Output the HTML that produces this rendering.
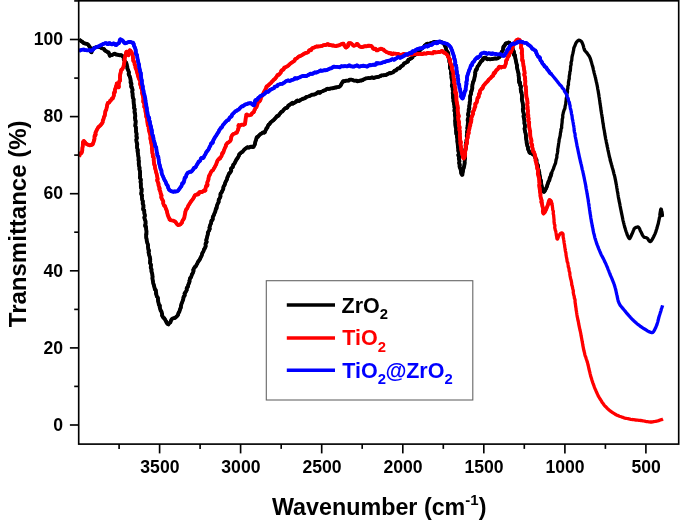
<!DOCTYPE html>
<html><head><meta charset="utf-8"><title>FTIR spectra</title>
<style>
html,body{margin:0;padding:0;background:#fff;}
body{width:685px;height:524px;overflow:hidden;}
svg{display:block;}
text{font-family:"Liberation Sans",Arial,Helvetica,sans-serif;font-weight:bold;}
.tk{font-size:17.6px;fill:#000;}
.ttl{font-size:24px;fill:#000;}
.lg{font-size:21.5px;}
.k{stroke-width:3.8 !important;}
.c{fill:none;stroke-width:3.3;stroke-linejoin:round;stroke-linecap:butt;}
</style></head><body>
<svg width="685" height="524" viewBox="0 0 685 524">
<rect x="0" y="0" width="685" height="524" fill="#fff"/>
<polyline class="c" stroke="#000" points="79.0,39.5 79.7,40.1 80.7,40.7 81.5,41.4 81.7,41.5 82.6,42.0 83.7,43.1 84.7,43.4 85.6,43.7 86.7,43.9 87.5,44.1 88.1,44.6 88.8,45.5 89.3,46.5 89.8,46.8 90.1,47.8 90.4,49.0 90.6,50.3 90.9,51.8 91.2,52.2 91.5,52.3 91.9,51.2 92.7,49.2 93.3,48.5 93.8,48.2 94.6,47.7 96.1,47.2 97.1,46.9 97.3,47.0 98.3,47.2 99.8,47.1 100.7,47.5 101.4,48.1 102.4,48.5 103.4,48.8 104.3,49.2 104.9,50.5 105.7,51.0 106.7,51.5 107.5,52.1 108.6,52.4 109.0,53.5 109.5,54.9 109.9,55.8 109.9,55.5 110.6,55.3 111.8,55.2 112.8,54.6 114.0,53.9 115.0,53.7 116.0,54.6 117.0,54.7 117.3,54.6 118.3,54.9 119.2,55.1 120.2,55.4 121.2,55.1 122.0,55.7 123.2,56.9 123.9,57.7 123.7,59.3 124.2,60.2 124.9,61.0 125.3,61.9 126.1,62.5 126.5,63.4 126.4,63.7 126.7,64.6 127.1,66.3 127.4,67.2 127.3,68.1 127.6,69.1 128.1,69.9 128.4,70.9 128.8,71.8 129.0,72.7 128.6,73.9 128.9,74.9 129.7,76.2 129.9,77.2 130.3,78.0 130.5,79.0 130.5,79.8 130.7,80.7 130.5,82.2 130.7,83.2 131.3,83.0 131.5,84.0 131.1,86.2 131.3,87.2 131.7,86.9 131.9,87.9 132.4,89.1 132.6,90.1 132.2,91.4 132.3,92.4 132.5,92.9 132.6,93.9 132.6,95.6 132.7,96.6 132.8,96.8 132.9,97.8 133.6,99.1 133.7,100.1 133.5,100.8 133.6,101.8 133.7,103.7 133.9,104.7 134.2,105.6 134.3,106.6 134.0,107.2 134.1,108.2 134.7,108.9 134.7,109.9 134.5,111.7 134.6,112.7 135.0,113.1 135.1,114.1 135.3,115.7 135.3,116.7 134.9,117.3 135.0,118.3 135.3,119.3 135.3,120.3 135.6,120.6 135.7,121.6 135.5,123.5 135.5,124.5 135.3,125.1 135.3,126.1 135.8,126.9 135.9,127.9 136.0,129.2 136.1,130.2 136.0,131.1 136.1,132.1 136.5,133.2 136.6,134.2 136.4,136.0 136.5,137.0 136.8,137.1 136.9,138.1 136.3,139.7 136.4,140.7 136.5,141.3 136.6,142.3 137.2,143.8 137.3,144.8 137.0,145.0 137.1,146.0 137.0,146.9 137.1,147.9 137.8,149.8 137.9,150.8 137.5,150.6 137.6,151.6 138.0,153.9 138.1,154.8 138.2,155.3 138.3,156.3 138.5,157.0 138.6,158.0 138.5,159.9 138.6,160.9 138.8,160.6 138.9,161.6 138.7,163.2 138.8,164.2 138.8,164.5 138.9,165.5 139.5,167.3 139.6,168.2 139.4,168.7 139.5,169.7 140.0,171.3 140.1,172.3 140.0,173.8 140.1,174.8 140.1,175.6 140.2,176.6 139.9,177.0 140.0,178.0 140.8,179.4 140.8,180.4 140.5,181.5 140.6,182.5 140.8,183.1 140.9,184.1 140.8,185.1 140.9,186.1 140.8,186.6 140.9,187.6 141.6,188.9 141.7,189.9 141.5,190.6 141.6,191.5 141.2,193.4 141.3,194.4 141.9,195.0 142.0,196.0 141.9,196.9 142.0,197.9 142.2,199.5 142.4,200.5 142.8,201.0 142.9,202.0 142.6,202.8 142.7,203.8 143.3,204.6 143.5,205.6 143.4,206.3 143.5,207.3 143.1,208.8 143.3,209.8 144.2,210.2 144.3,211.2 144.3,212.6 144.4,213.6 144.8,214.9 144.9,215.9 144.3,217.5 144.5,218.5 144.6,218.3 144.7,219.3 145.5,221.1 145.6,222.1 145.5,222.8 145.6,223.8 145.1,225.2 145.2,226.2 145.9,226.3 146.0,227.3 146.1,228.2 146.2,229.2 146.4,230.6 146.5,231.6 146.4,233.2 146.5,234.2 146.1,234.3 146.2,235.3 146.2,237.1 146.3,238.1 146.5,238.4 146.6,239.4 146.7,240.3 146.8,241.3 147.1,242.0 147.3,243.0 147.9,244.5 148.1,245.5 147.9,246.5 148.1,247.5 148.3,248.9 148.4,249.8 148.8,250.0 149.0,251.0 148.5,252.1 148.7,253.1 149.0,253.9 149.1,254.9 149.5,256.0 149.7,257.0 150.2,258.7 150.3,259.7 150.1,260.4 150.3,261.4 150.0,262.2 150.1,263.2 150.9,264.5 151.0,265.5 150.7,267.1 150.8,268.1 151.4,268.9 151.6,269.9 151.4,270.7 151.5,271.7 152.0,273.0 152.2,274.0 152.2,273.7 152.4,274.7 152.4,275.7 152.6,276.7 152.4,278.3 152.6,279.3 152.7,280.1 152.9,281.0 153.2,282.8 153.4,283.8 153.6,284.2 153.8,285.1 154.1,286.2 154.4,287.1 154.7,288.6 155.0,289.6 155.7,289.9 155.9,290.9 156.0,292.4 156.3,293.4 156.0,293.5 156.3,294.5 156.6,295.5 156.8,296.5 157.8,297.5 158.0,298.5 157.9,299.8 158.2,300.7 158.1,301.2 158.4,302.2 158.7,303.8 158.9,304.8 159.6,305.0 159.9,306.0 159.6,306.9 159.9,307.9 160.5,310.0 160.7,310.9 161.3,311.0 161.6,312.0 161.8,313.2 162.2,314.1 162.0,315.3 162.4,316.2 163.0,317.0 163.4,317.8 164.1,318.0 164.7,318.8 165.6,320.7 166.2,321.5 166.4,322.4 167.1,323.4 167.7,324.0 168.4,324.4 169.0,323.5 169.5,322.9 170.4,322.3 170.8,321.1 171.4,319.7 172.0,318.9 172.7,318.6 173.6,318.1 174.4,318.2 175.3,317.7 176.8,316.3 177.4,315.7 177.6,315.5 178.1,314.7 178.3,313.4 178.7,312.5 179.2,312.1 179.5,311.1 180.0,309.5 180.3,308.5 180.6,308.2 180.9,307.2 180.9,306.1 181.2,305.2 181.4,304.2 181.7,303.3 182.3,301.9 182.6,301.0 183.1,299.7 183.4,298.7 183.4,297.5 183.7,296.6 184.5,296.0 184.8,295.1 184.5,293.7 184.8,292.8 185.3,292.7 185.7,291.8 186.4,290.8 186.8,289.9 186.6,288.6 186.9,287.7 187.7,287.2 188.0,286.3 188.2,285.0 188.6,284.0 189.3,282.4 189.6,281.5 189.4,280.7 189.7,279.7 189.9,278.9 190.2,277.9 191.1,277.2 191.4,276.2 191.8,274.9 192.1,273.9 192.5,273.7 192.9,272.8 193.3,271.7 193.6,270.8 193.2,270.0 193.6,269.1 194.2,268.0 194.7,267.1 195.5,266.8 196.0,265.9 196.7,264.5 197.3,263.6 197.8,262.2 198.3,261.3 198.4,261.6 198.9,260.7 199.7,259.6 200.2,258.7 200.4,258.0 200.9,257.1 201.2,256.4 201.7,255.6 202.2,253.4 202.7,252.5 203.2,251.9 203.6,250.9 203.9,249.8 204.2,248.9 204.8,248.4 205.1,247.5 205.4,247.1 205.7,246.2 205.5,244.1 205.7,243.2 206.4,242.7 206.7,241.8 206.2,240.3 206.4,239.3 206.6,239.2 206.8,238.2 207.0,237.4 207.3,236.4 207.8,234.3 208.0,233.3 207.8,232.9 208.1,232.0 209.1,230.6 209.4,229.7 209.5,229.7 209.8,228.8 209.4,227.8 209.7,226.8 210.1,225.4 210.4,224.5 210.8,224.0 211.1,223.0 211.3,221.2 211.6,220.3 212.4,220.1 212.8,219.1 212.7,217.5 213.0,216.6 213.8,215.3 214.1,214.4 214.1,214.4 214.4,213.5 215.0,212.2 215.4,211.2 215.7,209.4 216.0,208.5 216.4,208.7 216.7,207.7 216.7,206.6 217.0,205.6 217.4,204.5 217.8,203.6 218.3,202.8 218.7,201.9 218.6,200.3 218.9,199.4 219.4,198.9 219.8,197.9 220.2,197.3 220.5,196.4 220.4,194.3 220.7,193.4 221.5,192.6 221.8,191.6 222.0,191.7 222.4,190.7 223.0,189.5 223.4,188.5 223.3,187.5 223.6,186.5 224.5,185.2 224.9,184.3 225.0,183.4 225.3,182.5 225.4,182.4 225.8,181.5 226.7,179.9 227.1,179.0 227.3,177.6 227.7,176.7 227.7,176.9 228.1,176.0 228.8,174.1 229.2,173.2 229.8,173.2 230.2,172.3 230.9,171.4 231.3,170.5 230.9,169.0 231.3,168.1 232.6,167.4 233.0,166.5 233.0,165.5 233.4,164.6 234.4,163.8 234.8,162.9 235.0,162.4 235.5,161.5 236.2,159.9 236.7,159.0 237.0,159.0 237.6,158.2 238.2,156.9 238.8,156.0 239.1,154.6 239.7,153.8 240.6,153.2 241.3,152.4 242.1,152.2 242.8,151.5 243.6,150.4 244.3,149.7 245.1,148.9 245.9,148.3 246.7,147.7 247.6,147.2 248.6,147.7 249.5,147.4 250.1,146.9 251.2,146.7 252.6,147.1 253.6,146.9 254.0,145.8 254.4,145.2 254.7,144.7 255.0,143.7 255.2,142.5 255.5,141.4 255.8,140.4 256.2,139.5 256.6,137.7 257.1,136.8 257.9,136.9 258.5,136.0 259.0,135.5 259.6,134.9 260.8,133.8 261.8,133.4 262.6,132.6 263.7,132.3 264.2,132.7 264.8,132.3 265.5,130.5 265.9,129.7 266.2,129.2 266.5,128.1 267.3,127.9 267.6,126.9 268.1,125.5 268.6,124.7 269.2,124.3 269.9,123.6 270.4,122.6 271.2,121.9 271.7,121.6 272.5,120.9 273.3,120.4 274.0,119.7 275.3,118.2 276.0,117.6 276.5,116.6 277.2,115.9 278.1,116.0 278.8,115.3 279.4,114.2 280.1,113.5 280.9,112.3 281.6,111.6 282.2,111.6 282.9,110.9 283.9,109.5 284.6,108.8 285.2,108.4 286.0,107.8 286.7,108.0 287.5,107.4 288.2,105.7 289.0,105.1 289.6,104.9 290.4,104.3 291.5,103.3 292.3,102.8 292.9,103.7 293.8,103.2 295.4,102.1 296.3,101.7 296.5,100.9 297.4,100.5 298.9,101.0 299.8,100.6 300.8,99.7 301.8,99.3 302.6,98.9 303.5,98.6 304.3,98.4 305.3,98.0 305.9,97.2 306.8,96.8 308.0,96.5 308.9,96.2 309.7,95.9 310.7,95.5 311.5,95.0 312.4,94.6 313.7,94.7 314.6,94.3 315.3,94.1 316.2,93.7 317.6,92.4 318.6,92.1 319.5,92.9 320.4,92.5 320.8,91.8 321.7,91.5 322.5,91.2 323.4,90.8 324.5,90.4 325.4,90.2 326.6,89.0 327.6,88.7 328.8,89.0 329.7,88.8 330.3,88.5 331.3,88.3 332.3,88.4 333.2,88.1 334.7,87.6 335.8,87.3 336.4,87.5 337.4,87.2 338.6,86.9 339.4,86.6 339.9,86.2 340.6,85.6 341.1,84.6 341.6,83.6 342.6,82.0 343.2,81.1 343.8,81.4 344.6,81.2 345.3,80.9 346.3,80.7 347.7,80.7 348.8,80.6 349.7,79.6 350.7,79.7 351.8,79.7 352.8,80.0 353.3,80.5 354.3,80.7 355.8,80.7 356.8,80.7 357.3,81.4 358.3,81.2 359.6,80.7 360.5,80.5 361.7,80.5 362.7,80.2 363.1,79.5 364.0,79.3 365.3,78.6 366.2,78.4 367.7,78.2 368.7,78.0 369.6,78.2 370.6,78.0 371.3,77.5 372.3,77.3 373.6,78.0 374.5,77.8 375.6,77.3 376.6,77.1 377.5,77.0 378.5,76.9 379.5,76.4 380.5,76.2 380.8,75.5 381.8,75.3 383.3,75.3 384.2,75.1 385.2,75.2 386.2,74.9 387.0,74.3 388.0,73.9 389.0,73.3 390.0,72.9 390.2,73.4 391.1,73.0 392.6,72.5 393.5,72.0 394.3,70.9 395.2,70.4 395.7,70.6 396.5,70.0 397.3,68.9 398.1,68.3 399.3,68.4 400.1,67.8 400.6,66.8 401.4,66.2 402.6,65.5 403.3,64.9 403.8,63.7 404.6,63.1 405.6,62.9 406.4,62.2 407.3,62.1 408.1,61.4 408.2,59.9 409.0,59.3 409.6,59.4 410.4,58.7 411.7,58.1 412.5,57.4 412.9,56.0 413.7,55.3 414.8,55.1 415.5,54.5 416.0,54.1 416.7,53.4 417.8,51.6 418.6,51.0 418.9,51.4 419.7,50.8 420.5,49.2 421.2,48.6 421.7,48.8 422.5,48.1 423.4,47.2 424.2,46.6 424.7,45.5 425.5,44.9 426.5,44.1 427.3,43.7 428.7,44.0 429.6,43.6 430.0,43.5 430.9,43.1 432.2,42.7 433.1,42.4 434.6,41.9 435.5,41.8 436.4,42.2 437.4,42.3 438.5,41.9 439.5,42.0 440.1,41.7 441.1,41.9 442.1,42.4 442.8,42.9 443.6,43.4 444.2,44.3 445.1,46.1 445.7,47.1 445.5,47.2 445.9,48.1 446.3,49.9 446.7,50.8 447.0,51.1 447.3,52.0 448.0,52.5 448.3,53.5 448.3,54.4 448.5,55.4 448.4,56.8 448.6,57.7 449.2,58.4 449.3,59.3 449.3,61.0 449.4,62.0 450.0,62.7 450.2,63.7 449.9,65.5 450.0,66.5 449.9,67.4 450.0,68.4 450.6,68.3 450.7,69.3 451.0,70.6 451.2,71.6 450.9,72.7 451.0,73.7 451.4,74.8 451.5,75.8 451.4,77.1 451.5,78.1 451.7,78.7 451.8,79.7 452.2,80.6 452.3,81.6 452.3,82.4 452.4,83.4 451.8,85.3 451.9,86.3 452.6,86.0 452.7,87.0 452.6,89.1 452.7,90.1 453.2,90.2 453.3,91.2 452.7,92.9 452.8,93.9 453.0,94.5 453.0,95.5 453.0,97.3 453.1,98.3 453.4,98.1 453.5,99.1 453.4,100.2 453.4,101.2 454.0,103.2 454.0,104.2 454.3,104.7 454.4,105.7 454.4,106.4 454.4,107.4 454.6,107.9 454.7,108.9 454.4,110.2 454.5,111.2 455.0,112.1 455.1,113.1 454.8,114.2 454.9,115.2 455.3,117.1 455.4,118.1 455.3,119.1 455.4,120.1 455.1,120.8 455.2,121.8 455.3,122.5 455.3,123.5 455.4,125.0 455.5,126.0 455.6,126.5 455.7,127.5 456.1,128.3 456.2,129.3 456.0,130.2 456.1,131.2 456.2,133.1 456.3,134.1 457.0,134.3 457.1,135.3 456.9,136.5 457.0,137.5 457.4,138.1 457.4,139.1 457.3,141.0 457.4,142.0 457.5,142.3 457.6,143.3 457.7,144.2 457.8,145.2 457.9,146.8 458.0,147.8 458.4,148.0 458.5,149.0 458.2,149.9 458.3,150.9 458.8,152.9 459.0,153.9 458.3,154.8 458.4,155.7 459.2,156.5 459.3,157.5 458.8,158.0 458.9,159.0 459.4,160.6 459.5,161.6 459.1,162.6 459.2,163.6 459.7,164.2 459.8,165.2 459.5,165.9 459.6,166.9 460.5,169.0 460.7,170.0 460.8,170.4 461.0,171.3 461.1,172.7 461.3,173.6 461.9,174.1 462.4,174.7 462.0,174.8 462.4,174.1 462.6,172.7 462.9,171.5 463.1,170.2 463.3,169.0 463.8,167.7 464.0,166.7 464.3,165.9 464.4,164.9 464.6,163.6 464.7,162.6 464.6,162.0 464.6,161.0 464.7,160.6 464.8,159.6 465.1,158.4 465.1,157.4 464.8,156.5 464.9,155.5 464.9,153.6 465.0,152.6 465.0,152.5 465.1,151.5 465.2,150.3 465.3,149.3 466.0,147.9 466.1,146.9 465.6,145.8 465.7,144.8 465.9,143.9 466.0,142.9 466.6,142.8 466.7,141.8 466.4,141.0 466.5,140.0 467.1,138.9 467.2,137.9 466.7,136.1 466.8,135.1 467.1,134.7 467.2,133.7 467.0,132.4 467.1,131.4 467.7,130.8 467.7,129.8 467.3,128.3 467.4,127.3 467.5,126.5 467.6,125.5 467.7,124.8 467.8,123.8 468.2,121.8 468.3,120.8 467.6,120.4 467.7,119.4 468.3,118.2 468.4,117.2 468.6,116.5 468.7,115.5 468.0,115.0 468.1,114.0 468.6,112.2 468.7,111.3 468.6,110.3 468.7,109.3 469.3,108.8 469.4,107.8 469.2,106.6 469.3,105.6 469.6,104.3 469.7,103.3 469.6,102.7 469.8,101.7 470.1,100.3 470.2,99.4 470.1,98.0 470.2,97.0 470.1,96.5 470.3,95.5 470.9,94.3 471.1,93.3 471.0,92.2 471.2,91.2 471.6,91.2 471.7,90.2 472.2,88.9 472.4,87.9 472.2,86.8 472.4,85.8 472.4,85.0 472.6,84.1 472.9,82.8 473.1,81.8 473.7,81.0 473.9,80.0 474.2,79.4 474.4,78.4 474.5,77.4 474.8,76.4 475.1,74.5 475.4,73.5 475.1,72.7 475.4,71.7 475.6,70.5 476.0,69.6 476.5,69.9 476.9,69.0 477.4,67.0 477.8,66.2 478.2,65.9 478.8,65.1 479.7,63.5 480.3,62.6 480.7,62.0 481.2,61.1 482.2,60.7 482.8,60.0 483.0,58.6 483.8,57.8 485.0,57.7 485.9,57.8 486.3,58.6 487.2,59.3 488.4,59.2 489.4,59.1 490.2,59.3 491.2,59.2 492.0,59.0 493.0,58.9 494.1,58.6 495.1,58.5 496.5,58.7 497.4,58.5 498.2,58.0 499.1,57.4 499.8,56.7 500.3,56.0 500.4,55.0 500.8,54.0 501.4,52.8 501.7,51.8 502.4,51.1 502.8,50.1 502.9,49.6 503.2,48.6 503.3,47.2 503.7,46.2 504.4,45.9 504.9,45.1 505.6,43.6 506.4,43.1 507.1,43.2 508.1,43.2 508.6,42.4 509.5,42.8 510.4,44.5 510.9,45.3 511.3,45.8 511.7,46.7 512.3,47.0 512.6,48.0 512.8,49.4 513.1,50.3 513.9,51.6 514.1,52.6 513.7,53.9 513.9,54.9 514.8,54.8 515.1,55.8 515.2,57.5 515.4,58.4 515.7,59.8 515.9,60.7 516.0,61.5 516.3,62.5 516.5,63.8 516.8,64.8 516.8,64.6 517.1,65.6 516.9,66.8 517.1,67.8 517.5,69.7 517.7,70.7 518.0,71.4 518.1,72.4 518.5,73.2 518.6,74.2 518.5,75.5 518.7,76.5 518.8,77.6 519.0,78.5 518.8,79.6 519.0,80.6 519.0,81.7 519.2,82.6 520.0,82.4 520.1,83.4 520.0,84.3 520.1,85.3 520.9,86.3 521.0,87.3 520.6,88.2 520.7,89.2 521.0,91.5 521.2,92.5 521.5,92.2 521.6,93.2 521.9,95.3 522.0,96.2 521.9,97.0 522.0,98.0 521.8,98.7 521.9,99.7 522.2,100.5 522.3,101.5 522.6,102.5 522.7,103.5 522.9,104.4 523.0,105.4 523.2,107.3 523.3,108.3 522.8,109.0 522.9,110.0 522.9,110.0 523.0,111.0 523.5,112.6 523.6,113.6 524.0,114.4 524.0,115.4 523.5,116.0 523.6,117.0 524.2,119.2 524.3,120.2 524.4,121.0 524.5,122.0 524.4,122.4 524.4,123.4 524.9,125.1 525.0,126.1 524.9,126.4 524.9,127.4 524.5,128.4 524.6,129.4 525.1,131.2 525.2,132.2 525.6,133.3 525.7,134.3 525.8,134.6 526.0,135.6 525.9,137.2 526.1,138.2 526.2,139.2 526.4,140.2 526.5,140.7 526.6,141.8 526.6,142.6 526.8,143.6 527.2,145.1 527.4,146.1 527.8,146.7 528.0,147.6 528.0,148.8 528.3,149.7 529.0,151.1 529.4,151.9 529.3,152.3 530.0,153.0 531.3,153.1 532.1,153.8 532.6,154.1 533.4,154.7 534.6,155.6 535.1,156.4 535.2,157.7 535.6,158.5 536.3,159.3 536.6,160.2 536.5,161.7 536.7,162.7 536.9,163.9 537.1,164.9 537.8,164.9 538.1,165.9 537.9,167.8 538.1,168.8 538.7,169.9 538.9,170.9 539.2,171.8 539.4,172.8 539.1,172.5 539.3,173.5 539.5,174.5 539.7,175.5 539.9,176.4 540.1,177.4 540.2,178.8 540.5,179.8 540.9,180.4 541.1,181.4 541.1,182.9 541.3,184.2 541.6,185.5 541.9,186.8 542.6,188.9 542.9,190.0 543.2,190.3 543.5,191.1 543.2,191.4 543.5,191.7 544.0,191.9 544.3,191.6 544.7,191.1 545.2,190.2 546.0,188.7 546.4,187.6 546.8,186.8 547.2,185.6 547.5,184.5 547.9,183.5 548.2,182.6 548.5,181.6 549.1,180.7 549.5,179.8 549.6,178.5 550.0,177.5 550.5,176.6 550.8,175.7 551.1,174.5 551.4,173.6 551.7,172.7 552.0,171.8 552.2,171.4 552.6,170.4 553.3,169.0 553.7,168.1 553.7,167.6 554.1,166.6 554.5,165.7 554.8,164.8 555.3,163.8 555.6,162.9 555.8,161.4 556.0,160.4 556.1,160.0 556.3,159.0 556.7,157.9 556.9,156.9 556.8,155.6 557.0,154.6 557.3,153.7 557.5,152.7 557.6,151.6 557.8,150.6 557.7,149.8 557.8,148.8 558.1,147.6 558.2,146.6 558.4,145.6 558.5,144.6 558.6,143.7 558.8,142.7 558.9,142.0 559.1,141.0 559.1,140.0 559.3,139.0 559.6,138.2 559.8,137.2 560.1,135.8 560.3,134.8 560.3,134.1 560.4,133.1 560.8,131.7 561.0,130.7 560.9,130.1 561.0,129.1 561.5,128.4 561.7,127.4 561.6,126.5 561.7,125.5 561.9,123.8 562.1,122.8 562.1,122.0 562.2,121.0 562.2,120.0 562.3,119.0 562.7,117.8 562.8,116.8 562.7,115.8 562.8,114.8 563.0,114.2 563.2,113.2 563.5,112.0 563.8,111.0 564.0,110.3 564.4,109.3 564.8,108.6 565.0,107.6 565.1,106.4 565.3,105.5 565.6,104.5 565.8,103.5 565.8,102.7 565.9,101.7 566.1,100.6 566.2,99.6 566.2,98.8 566.4,97.8 566.8,96.7 566.9,95.7 566.7,94.8 566.9,93.8 567.4,92.6 567.5,91.6 567.3,90.6 567.5,89.6 567.8,88.5 567.9,87.5 567.8,87.0 567.9,86.1 568.4,85.0 568.5,84.0 568.4,83.1 568.5,82.1 568.8,80.6 568.9,79.6 569.2,79.1 569.3,78.1 569.2,77.1 569.3,76.1 569.6,74.7 569.8,73.7 569.8,72.7 569.9,71.7 570.3,70.9 570.4,69.9 570.5,68.7 570.6,67.7 570.5,66.9 570.7,65.9 571.1,64.7 571.2,63.7 571.0,63.2 571.1,62.3 571.6,60.9 571.8,60.0 571.8,59.3 571.9,58.3 572.0,57.1 572.2,56.1 572.5,55.0 572.7,54.0 572.9,53.4 573.1,52.4 573.4,50.9 573.7,49.9 573.6,49.3 573.9,48.3 574.1,47.4 574.5,46.5 575.1,45.4 575.4,44.4 575.8,43.4 576.3,42.5 576.8,41.8 577.5,41.1 578.3,40.4 579.2,40.2 580.2,40.6 581.1,41.1 581.6,41.7 582.1,42.6 582.5,43.6 582.9,44.6 583.2,45.5 583.5,46.5 583.7,47.6 584.0,48.6 584.3,49.5 584.7,50.4 585.3,51.1 586.0,51.8 586.7,52.6 587.3,53.4 587.8,54.2 588.4,55.0 589.0,55.9 589.5,56.7 589.9,57.6 590.3,58.5 590.6,59.6 590.9,60.5 591.2,61.4 591.5,62.4 591.8,63.3 592.0,64.2 592.3,65.3 592.6,66.3 592.9,67.3 593.1,68.2 593.3,69.2 593.5,70.1 593.8,71.1 594.0,72.1 594.2,73.1 594.5,74.1 594.7,74.9 595.0,75.9 595.2,76.9 595.5,77.8 595.7,78.9 595.9,79.8 596.1,80.8 596.3,81.7 596.6,82.8 596.8,83.8 597.0,84.8 597.2,85.7 597.4,86.7 597.6,87.7 597.7,88.7 597.9,89.7 598.1,90.6 598.3,91.6 598.4,92.6 598.6,93.6 598.8,94.6 598.9,95.5 599.0,96.5 599.2,97.5 599.4,98.5 599.5,99.5 599.7,100.6 599.8,101.6 599.9,102.4 600.0,103.4 600.2,104.5 600.4,105.5 600.5,106.4 600.6,107.4 600.8,108.4 600.9,109.4 601.0,110.4 601.2,111.4 601.4,112.5 601.5,113.5 601.7,114.4 601.9,115.4 602.0,116.3 602.1,117.3 602.3,118.3 602.5,119.3 602.6,120.4 602.7,121.4 602.9,122.3 603.0,123.3 603.2,124.3 603.4,125.3 603.5,126.3 603.6,127.3 603.8,128.3 604.0,129.3 604.2,130.3 604.4,131.2 604.5,132.2 604.7,133.1 604.8,134.1 605.0,135.1 605.2,136.1 605.4,137.1 605.5,138.1 605.7,139.1 606.0,140.1 606.2,141.0 606.3,142.0 606.5,143.0 606.8,144.0 607.0,145.0 607.1,145.9 607.3,146.9 607.6,147.9 607.8,148.9 607.9,149.8 608.1,150.8 608.4,151.7 608.6,152.7 608.8,153.8 609.0,154.8 609.2,155.7 609.4,156.7 609.7,157.6 610.0,158.6 610.1,159.6 610.3,160.6 610.7,161.6 610.9,162.6 611.2,163.4 611.4,164.4 611.7,165.3 611.9,166.3 612.2,167.3 612.5,168.3 612.8,169.2 613.1,170.2 613.3,171.2 613.6,172.2 613.8,173.1 614.0,174.1 614.3,175.1 614.6,176.0 614.8,176.9 615.0,177.9 615.2,178.9 615.4,179.8 615.6,180.9 615.8,181.9 616.0,182.8 616.1,183.8 616.4,184.7 616.5,185.7 616.7,186.8 616.8,187.7 617.0,188.8 617.2,189.8 617.3,190.7 617.5,191.7 617.7,192.8 617.9,193.8 618.0,194.7 618.2,195.7 618.3,196.7 618.5,197.7 618.7,198.7 618.9,199.6 619.1,200.6 619.2,201.5 619.5,202.6 619.7,203.6 619.9,204.5 620.0,205.5 620.2,206.5 620.4,207.4 620.6,208.5 620.8,209.5 621.0,210.4 621.2,211.4 621.4,212.4 621.6,213.4 621.8,214.3 622.0,215.3 622.2,216.3 622.4,217.3 622.6,218.3 622.8,219.3 623.0,220.1 623.2,221.1 623.5,222.1 623.7,223.1 624.0,224.1 624.2,225.1 624.5,226.1 624.7,227.1 625.0,227.9 625.3,228.9 625.6,230.0 625.9,230.9 626.2,231.8 626.6,232.7 626.9,233.7 627.2,234.7 627.7,235.7 628.2,236.9 628.7,237.8 629.1,238.4 629.6,238.6 630.1,238.1 630.6,237.1 631.1,236.0 631.6,234.8 632.1,233.8 632.5,232.8 632.9,231.8 633.3,230.8 633.7,229.9 634.1,228.9 634.7,228.2 635.3,227.8 636.3,227.3 637.4,227.0 638.2,227.0 638.8,227.5 639.3,228.3 639.8,229.3 640.2,230.4 640.8,231.6 641.3,232.5 641.7,233.4 642.1,234.4 642.6,235.3 643.2,236.2 643.8,236.8 644.5,237.3 645.6,237.5 646.6,237.8 647.4,238.3 648.1,239.2 648.6,240.1 649.2,241.0 649.9,241.6 650.5,241.5 651.2,240.9 651.8,240.1 652.3,239.2 652.9,238.1 653.5,237.1 654.0,236.1 654.4,235.2 654.8,234.3 655.2,233.3 655.6,232.4 655.9,231.5 656.2,230.5 656.5,229.6 656.8,228.7 657.1,227.7 657.3,226.7 657.6,225.7 657.9,224.7 658.2,223.9 658.4,222.9 658.6,221.8 658.8,220.9 659.0,220.0 659.2,219.0 659.4,217.9 659.6,216.8 659.8,215.5 659.9,214.2 660.1,213.0 660.3,211.7 660.5,210.7 660.7,209.9 660.8,209.3 661.0,209.0 661.2,209.2 661.4,209.5 661.5,210.0 661.7,210.9 662.0,212.0 662.2,213.3 662.3,214.8 662.5,216.6 662.6,217.0"/>
<polyline class="c k" stroke="#000" points="79.0,39.5 79.7,40.1 80.7,40.7 81.5,41.4 81.7,41.5 82.6,42.0 83.7,43.1 84.7,43.4 85.6,43.7 86.7,43.9 87.5,44.1 88.1,44.6 88.8,45.5 89.3,46.5 89.8,46.8 90.1,47.8 90.4,49.0 90.6,50.3 90.9,51.8 91.2,52.2 91.5,52.3 91.9,51.2 92.7,49.2 93.3,48.5 93.8,48.2 94.6,47.7 96.1,47.2 97.1,46.9 97.3,47.0 98.3,47.2 99.8,47.1 100.7,47.5 101.4,48.1 102.4,48.5 103.4,48.8 104.3,49.2 104.9,50.5 105.7,51.0 106.7,51.5 107.5,52.1 108.6,52.4 109.0,53.5 109.5,54.9 109.9,55.8 109.9,55.5 110.6,55.3 111.8,55.2 112.8,54.6 114.0,53.9 115.0,53.7 116.0,54.6 117.0,54.7 117.3,54.6 118.3,54.9 119.2,55.1 120.2,55.4 121.2,55.1 122.0,55.7 123.2,56.9 123.9,57.7 123.7,59.3 124.2,60.2 124.9,61.0 125.3,61.9 126.1,62.5 126.5,63.4 126.4,63.7 126.7,64.6 127.1,66.3 127.4,67.2 127.3,68.1 127.6,69.1 128.1,69.9 128.4,70.9 128.8,71.8 129.0,72.7 128.6,73.9 128.9,74.9 129.7,76.2 129.9,77.2 130.3,78.0 130.5,79.0 130.5,79.8 130.7,80.7 130.5,82.2 130.7,83.2 131.3,83.0 131.5,84.0 131.1,86.2 131.3,87.2 131.7,86.9 131.9,87.9 132.4,89.1 132.6,90.1 132.2,91.4 132.3,92.4 132.5,92.9 132.6,93.9 132.6,95.6 132.7,96.6 132.8,96.8 132.9,97.8 133.6,99.1 133.7,100.1 133.5,100.8 133.6,101.8 133.7,103.7 133.9,104.7 134.2,105.6 134.3,106.6 134.0,107.2 134.1,108.2 134.7,108.9 134.7,109.9 134.5,111.7 134.6,112.7 135.0,113.1 135.1,114.1 135.3,115.7 135.3,116.7 134.9,117.3 135.0,118.3 135.3,119.3 135.3,120.3 135.6,120.6 135.7,121.6 135.5,123.5 135.5,124.5 135.3,125.1 135.3,126.1 135.8,126.9 135.9,127.9 136.0,129.2 136.1,130.2 136.0,131.1 136.1,132.1 136.5,133.2 136.6,134.2 136.4,136.0 136.5,137.0 136.8,137.1 136.9,138.1 136.3,139.7 136.4,140.7 136.5,141.3 136.6,142.3 137.2,143.8 137.3,144.8 137.0,145.0 137.1,146.0 137.0,146.9 137.1,147.9 137.8,149.8 137.9,150.8 137.5,150.6 137.6,151.6 138.0,153.9 138.1,154.8 138.2,155.3 138.3,156.3 138.5,157.0 138.6,158.0 138.5,159.9 138.6,160.9 138.8,160.6 138.9,161.6 138.7,163.2 138.8,164.2 138.8,164.5 138.9,165.5 139.5,167.3 139.6,168.2 139.4,168.7 139.5,169.7 140.0,171.3 140.1,172.3 140.0,173.8 140.1,174.8 140.1,175.6 140.2,176.6 139.9,177.0 140.0,178.0 140.8,179.4 140.8,180.4 140.5,181.5 140.6,182.5 140.8,183.1 140.9,184.1 140.8,185.1 140.9,186.1 140.8,186.6 140.9,187.6 141.6,188.9 141.7,189.9 141.5,190.6 141.6,191.5 141.2,193.4 141.3,194.4 141.9,195.0 142.0,196.0 141.9,196.9 142.0,197.9 142.2,199.5 142.4,200.5 142.8,201.0 142.9,202.0 142.6,202.8 142.7,203.8 143.3,204.6 143.5,205.6 143.4,206.3 143.5,207.3 143.1,208.8 143.3,209.8 144.2,210.2 144.3,211.2 144.3,212.6 144.4,213.6 144.8,214.9 144.9,215.9 144.3,217.5 144.5,218.5 144.6,218.3 144.7,219.3 145.5,221.1 145.6,222.1 145.5,222.8 145.6,223.8 145.1,225.2 145.2,226.2 145.9,226.3 146.0,227.3 146.1,228.2 146.2,229.2 146.4,230.6 146.5,231.6 146.4,233.2 146.5,234.2 146.1,234.3 146.2,235.3 146.2,237.1 146.3,238.1 146.5,238.4 146.6,239.4 146.7,240.3 146.8,241.3 147.1,242.0 147.3,243.0 147.9,244.5 148.1,245.5 147.9,246.5 148.1,247.5 148.3,248.9 148.4,249.8 148.8,250.0 149.0,251.0 148.5,252.1 148.7,253.1 149.0,253.9 149.1,254.9 149.5,256.0 149.7,257.0 150.2,258.7 150.3,259.7 150.1,260.4 150.3,261.4 150.0,262.2 150.1,263.2 150.9,264.5 151.0,265.5 150.7,267.1 150.8,268.1 151.4,268.9 151.6,269.9 151.4,270.7 151.5,271.7 152.0,273.0 152.2,274.0 152.2,273.7 152.4,274.7 152.4,275.7 152.6,276.7 152.4,278.3 152.6,279.3 152.7,280.1 152.9,281.0 153.2,282.8 153.4,283.8 153.6,284.2 153.8,285.1 154.1,286.2 154.4,287.1 154.7,288.6 155.0,289.6 155.7,289.9 155.9,290.9 156.0,292.4 156.3,293.4 156.0,293.5 156.3,294.5 156.6,295.5 156.8,296.5 157.8,297.5 158.0,298.5 157.9,299.8 158.2,300.7 158.1,301.2 158.4,302.2 158.7,303.8 158.9,304.8 159.6,305.0 159.9,306.0 159.6,306.9 159.9,307.9 160.5,310.0 160.7,310.9 161.3,311.0 161.6,312.0 161.8,313.2 162.2,314.1 162.0,315.3 162.4,316.2 163.0,317.0 163.4,317.8 164.1,318.0 164.7,318.8 165.6,320.7 166.2,321.5 166.4,322.4 167.1,323.4 167.7,324.0 168.4,324.4 169.0,323.5 169.5,322.9 170.4,322.3 170.8,321.1 171.4,319.7 172.0,318.9 172.7,318.6 173.6,318.1 174.4,318.2 175.3,317.7 176.8,316.3 177.4,315.7 177.6,315.5 178.1,314.7 178.3,313.4 178.7,312.5 179.2,312.1 179.5,311.1 180.0,309.5 180.3,308.5 180.6,308.2 180.9,307.2 180.9,306.1 181.2,305.2 181.4,304.2 181.7,303.3 182.3,301.9 182.6,301.0 183.1,299.7 183.4,298.7 183.4,297.5 183.7,296.6 184.5,296.0 184.8,295.1 184.5,293.7 184.8,292.8 185.3,292.7 185.7,291.8 186.4,290.8 186.8,289.9 186.6,288.6 186.9,287.7 187.7,287.2 188.0,286.3 188.2,285.0 188.6,284.0 189.3,282.4 189.6,281.5 189.4,280.7 189.7,279.7 189.9,278.9 190.2,277.9 191.1,277.2 191.4,276.2 191.8,274.9 192.1,273.9 192.5,273.7 192.9,272.8 193.3,271.7 193.6,270.8 193.2,270.0 193.6,269.1 194.2,268.0 194.7,267.1 195.5,266.8 196.0,265.9 196.7,264.5 197.3,263.6 197.8,262.2 198.3,261.3 198.4,261.6 198.9,260.7 199.7,259.6 200.2,258.7 200.4,258.0 200.9,257.1 201.2,256.4 201.7,255.6 202.2,253.4 202.7,252.5 203.2,251.9 203.6,250.9 203.9,249.8 204.2,248.9 204.8,248.4 205.1,247.5 205.4,247.1 205.7,246.2 205.5,244.1 205.7,243.2 206.4,242.7 206.7,241.8 206.2,240.3 206.4,239.3 206.6,239.2 206.8,238.2 207.0,237.4 207.3,236.4 207.8,234.3 208.0,233.3 207.8,232.9 208.1,232.0 209.1,230.6 209.4,229.7 209.5,229.7 209.8,228.8 209.4,227.8 209.7,226.8 210.1,225.4 210.4,224.5 210.8,224.0 211.1,223.0 211.3,221.2 211.6,220.3 212.4,220.1 212.8,219.1 212.7,217.5 213.0,216.6 213.8,215.3 214.1,214.4 214.1,214.4 214.4,213.5 215.0,212.2 215.4,211.2 215.7,209.4 216.0,208.5 216.4,208.7 216.7,207.7 216.7,206.6 217.0,205.6 217.4,204.5 217.8,203.6 218.3,202.8 218.7,201.9 218.6,200.3 218.9,199.4 219.4,198.9 219.8,197.9 220.2,197.3 220.5,196.4 220.4,194.3 220.7,193.4 221.5,192.6 221.8,191.6 222.0,191.7 222.4,190.7 223.0,189.5 223.4,188.5 223.3,187.5 223.6,186.5 224.5,185.2 224.9,184.3 225.0,183.4 225.3,182.5 225.4,182.4 225.8,181.5 226.7,179.9 227.1,179.0 227.3,177.6 227.7,176.7 227.7,176.9 228.1,176.0 228.8,174.1 229.2,173.2 229.8,173.2 230.2,172.3 230.9,171.4 231.3,170.5 230.9,169.0 231.3,168.1 232.6,167.4 233.0,166.5 233.0,165.5 233.4,164.6 234.4,163.8 234.8,162.9 235.0,162.4 235.5,161.5 236.2,159.9 236.7,159.0 237.0,159.0 237.6,158.2 238.2,156.9 238.8,156.0 239.1,154.6 239.7,153.8 240.6,153.2 241.3,152.4 242.1,152.2 242.8,151.5 243.6,150.4 244.3,149.7 245.1,148.9 245.9,148.3 246.7,147.7 247.6,147.2 248.6,147.7 249.5,147.4 250.1,146.9 251.2,146.7 252.6,147.1 253.6,146.9 254.0,145.8 254.4,145.2 254.7,144.7 255.0,143.7 255.2,142.5 255.5,141.4 255.8,140.4 256.2,139.5 256.6,137.7 257.1,136.8 257.9,136.9 258.5,136.0 259.0,135.5 259.6,134.9 260.8,133.8 261.8,133.4 262.6,132.6 263.7,132.3 264.2,132.7 264.8,132.3 265.5,130.5 265.9,129.7 266.2,129.2 266.5,128.1 267.3,127.9 267.6,126.9 268.1,125.5 268.6,124.7 269.2,124.3 269.9,123.6 270.4,122.6 271.2,121.9 271.7,121.6 272.5,120.9 273.3,120.4 274.0,119.7 275.3,118.2 276.0,117.6 276.5,116.6 277.2,115.9 278.1,116.0 278.8,115.3 279.4,114.2 280.1,113.5 280.9,112.3 281.6,111.6 282.2,111.6 282.9,110.9 283.9,109.5 284.6,108.8 285.2,108.4 286.0,107.8 286.7,108.0 287.5,107.4 288.2,105.7 289.0,105.1 289.6,104.9 290.4,104.3 291.5,103.3 292.3,102.8 292.9,103.7 293.8,103.2 295.4,102.1 296.3,101.7 296.5,100.9 297.4,100.5 298.9,101.0 299.8,100.6 300.8,99.7 301.8,99.3 302.6,98.9 303.5,98.6 304.3,98.4 305.3,98.0 305.9,97.2 306.8,96.8 308.0,96.5 308.9,96.2 309.7,95.9 310.7,95.5 311.5,95.0 312.4,94.6 313.7,94.7 314.6,94.3 315.3,94.1 316.2,93.7 317.6,92.4 318.6,92.1 319.5,92.9 320.4,92.5 320.8,91.8 321.7,91.5 322.5,91.2 323.4,90.8 324.5,90.4 325.4,90.2 326.6,89.0 327.6,88.7 328.8,89.0 329.7,88.8 330.3,88.5 331.3,88.3 332.3,88.4 333.2,88.1 334.7,87.6 335.8,87.3 336.4,87.5 337.4,87.2 338.6,86.9 339.4,86.6 339.9,86.2 340.6,85.6 341.1,84.6 341.6,83.6 342.6,82.0 343.2,81.1 343.8,81.4 344.6,81.2 345.3,80.9 346.3,80.7 347.7,80.7 348.8,80.6 349.7,79.6 350.7,79.7 351.8,79.7 352.8,80.0 353.3,80.5 354.3,80.7 355.8,80.7 356.8,80.7 357.3,81.4 358.3,81.2 359.6,80.7 360.5,80.5 361.7,80.5 362.7,80.2 363.1,79.5 364.0,79.3 365.3,78.6 366.2,78.4 367.7,78.2 368.7,78.0 369.6,78.2 370.6,78.0 371.3,77.5 372.3,77.3 373.6,78.0 374.5,77.8 375.6,77.3 376.6,77.1 377.5,77.0 378.5,76.9 379.5,76.4 380.5,76.2 380.8,75.5 381.8,75.3 383.3,75.3 384.2,75.1 385.2,75.2 386.2,74.9 387.0,74.3 388.0,73.9 389.0,73.3 390.0,72.9 390.2,73.4 391.1,73.0 392.6,72.5 393.5,72.0 394.3,70.9 395.2,70.4 395.7,70.6 396.5,70.0 397.3,68.9 398.1,68.3 399.3,68.4 400.1,67.8 400.6,66.8 401.4,66.2 402.6,65.5 403.3,64.9 403.8,63.7 404.6,63.1 405.6,62.9 406.4,62.2 407.3,62.1 408.1,61.4 408.2,59.9 409.0,59.3 409.6,59.4 410.4,58.7 411.7,58.1 412.5,57.4 412.9,56.0 413.7,55.3 414.8,55.1 415.5,54.5 416.0,54.1 416.7,53.4 417.8,51.6 418.6,51.0 418.9,51.4 419.7,50.8 420.5,49.2 421.2,48.6 421.7,48.8 422.5,48.1 423.4,47.2 424.2,46.6 424.7,45.5 425.5,44.9 426.5,44.1 427.3,43.7 428.7,44.0 429.6,43.6 430.0,43.5 430.9,43.1 432.2,42.7 433.1,42.4 434.6,41.9 435.5,41.8 436.4,42.2 437.4,42.3 438.5,41.9 439.5,42.0 440.1,41.7 441.1,41.9 442.1,42.4 442.8,42.9 443.6,43.4 444.2,44.3 445.1,46.1 445.7,47.1 445.5,47.2 445.9,48.1 446.3,49.9 446.7,50.8 447.0,51.1 447.3,52.0 448.0,52.5 448.3,53.5 448.3,54.4 448.5,55.4 448.4,56.8 448.6,57.7 449.2,58.4 449.3,59.3 449.3,61.0 449.4,62.0 450.0,62.7 450.2,63.7 449.9,65.5 450.0,66.5 449.9,67.4 450.0,68.4 450.6,68.3 450.7,69.3 451.0,70.6 451.2,71.6 450.9,72.7 451.0,73.7 451.4,74.8 451.5,75.8 451.4,77.1 451.5,78.1 451.7,78.7 451.8,79.7 452.2,80.6 452.3,81.6 452.3,82.4 452.4,83.4 451.8,85.3 451.9,86.3 452.6,86.0 452.7,87.0 452.6,89.1 452.7,90.1 453.2,90.2 453.3,91.2 452.7,92.9 452.8,93.9 453.0,94.5 453.0,95.5 453.0,97.3 453.1,98.3 453.4,98.1 453.5,99.1 453.4,100.2 453.4,101.2 454.0,103.2 454.0,104.2 454.3,104.7 454.4,105.7 454.4,106.4 454.4,107.4 454.6,107.9 454.7,108.9 454.4,110.2 454.5,111.2 455.0,112.1 455.1,113.1 454.8,114.2 454.9,115.2 455.3,117.1 455.4,118.1 455.3,119.1 455.4,120.1 455.1,120.8 455.2,121.8 455.3,122.5 455.3,123.5 455.4,125.0 455.5,126.0 455.6,126.5 455.7,127.5 456.1,128.3 456.2,129.3 456.0,130.2 456.1,131.2 456.2,133.1 456.3,134.1 457.0,134.3 457.1,135.3 456.9,136.5 457.0,137.5 457.4,138.1 457.4,139.1 457.3,141.0 457.4,142.0 457.5,142.3 457.6,143.3 457.7,144.2 457.8,145.2 457.9,146.8 458.0,147.8 458.4,148.0 458.5,149.0 458.2,149.9 458.3,150.9 458.8,152.9 459.0,153.9 458.3,154.8 458.4,155.7 459.2,156.5 459.3,157.5 458.8,158.0 458.9,159.0 459.4,160.6 459.5,161.6 459.1,162.6 459.2,163.6 459.7,164.2 459.8,165.2 459.5,165.9 459.6,166.9 460.5,169.0 460.7,170.0 460.8,170.4 461.0,171.3 461.1,172.7 461.3,173.6 461.9,174.1 462.4,174.7 462.0,174.8 462.4,174.1 462.6,172.7 462.9,171.5 463.1,170.2 463.3,169.0 463.8,167.7 464.0,166.7 464.3,165.9 464.4,164.9 464.6,163.6 464.7,162.6 464.6,162.0 464.6,161.0 464.7,160.6 464.8,159.6 465.1,158.4 465.1,157.4 464.8,156.5 464.9,155.5 464.9,153.6 465.0,152.6 465.0,152.5 465.1,151.5 465.2,150.3 465.3,149.3 466.0,147.9 466.1,146.9 465.6,145.8 465.7,144.8 465.9,143.9 466.0,142.9 466.6,142.8 466.7,141.8 466.4,141.0 466.5,140.0 467.1,138.9 467.2,137.9 466.7,136.1 466.8,135.1 467.1,134.7 467.2,133.7 467.0,132.4 467.1,131.4 467.7,130.8 467.7,129.8 467.3,128.3 467.4,127.3 467.5,126.5 467.6,125.5 467.7,124.8 467.8,123.8 468.2,121.8 468.3,120.8 467.6,120.4 467.7,119.4 468.3,118.2 468.4,117.2 468.6,116.5 468.7,115.5 468.0,115.0 468.1,114.0 468.6,112.2 468.7,111.3 468.6,110.3 468.7,109.3 469.3,108.8 469.4,107.8 469.2,106.6 469.3,105.6 469.6,104.3 469.7,103.3 469.6,102.7 469.8,101.7 470.1,100.3 470.2,99.4 470.1,98.0 470.2,97.0 470.1,96.5 470.3,95.5 470.9,94.3 471.1,93.3 471.0,92.2 471.2,91.2 471.6,91.2 471.7,90.2 472.2,88.9 472.4,87.9 472.2,86.8 472.4,85.8 472.4,85.0 472.6,84.1 472.9,82.8 473.1,81.8 473.7,81.0 473.9,80.0 474.2,79.4 474.4,78.4 474.5,77.4 474.8,76.4 475.1,74.5 475.4,73.5 475.1,72.7 475.4,71.7 475.6,70.5 476.0,69.6 476.5,69.9 476.9,69.0 477.4,67.0 477.8,66.2 478.2,65.9 478.8,65.1 479.7,63.5 480.3,62.6 480.7,62.0 481.2,61.1 482.2,60.7 482.8,60.0 483.0,58.6 483.8,57.8 485.0,57.7 485.9,57.8 486.3,58.6 487.2,59.3 488.4,59.2 489.4,59.1 490.2,59.3 491.2,59.2 492.0,59.0 493.0,58.9 494.1,58.6 495.1,58.5 496.5,58.7 497.4,58.5 498.2,58.0 499.1,57.4 499.8,56.7 500.3,56.0 500.4,55.0 500.8,54.0 501.4,52.8 501.7,51.8 502.4,51.1 502.8,50.1 502.9,49.6 503.2,48.6 503.3,47.2 503.7,46.2 504.4,45.9 504.9,45.1 505.6,43.6 506.4,43.1 507.1,43.2 508.1,43.2 508.6,42.4 509.5,42.8 510.4,44.5 510.9,45.3 511.3,45.8 511.7,46.7 512.3,47.0 512.6,48.0 512.8,49.4 513.1,50.3 513.9,51.6 514.1,52.6 513.7,53.9 513.9,54.9 514.8,54.8 515.1,55.8 515.2,57.5 515.4,58.4 515.7,59.8 515.9,60.7 516.0,61.5 516.3,62.5 516.5,63.8 516.8,64.8 516.8,64.6 517.1,65.6 516.9,66.8 517.1,67.8 517.5,69.7 517.7,70.7 518.0,71.4 518.1,72.4 518.5,73.2 518.6,74.2 518.5,75.5 518.7,76.5 518.8,77.6 519.0,78.5 518.8,79.6 519.0,80.6 519.0,81.7 519.2,82.6 520.0,82.4 520.1,83.4 520.0,84.3 520.1,85.3 520.9,86.3 521.0,87.3 520.6,88.2 520.7,89.2 521.0,91.5 521.2,92.5 521.5,92.2 521.6,93.2 521.9,95.3 522.0,96.2 521.9,97.0 522.0,98.0 521.8,98.7 521.9,99.7 522.2,100.5 522.3,101.5 522.6,102.5 522.7,103.5 522.9,104.4 523.0,105.4 523.2,107.3 523.3,108.3 522.8,109.0 522.9,110.0 522.9,110.0 523.0,111.0 523.5,112.6 523.6,113.6 524.0,114.4 524.0,115.4 523.5,116.0 523.6,117.0 524.2,119.2 524.3,120.2 524.4,121.0 524.5,122.0 524.4,122.4 524.4,123.4 524.9,125.1 525.0,126.1 524.9,126.4 524.9,127.4 524.5,128.4 524.6,129.4 525.1,131.2 525.2,132.2 525.6,133.3 525.7,134.3 525.8,134.6 526.0,135.6 525.9,137.2 526.1,138.2 526.2,139.2 526.4,140.2 526.5,140.7 526.6,141.8 526.6,142.6 526.8,143.6 527.2,145.1 527.4,146.1 527.8,146.7 528.0,147.6 528.0,148.8 528.3,149.7 529.0,151.1 529.4,151.9 529.3,152.3 530.0,153.0 531.3,153.1 532.1,153.8 532.6,154.1 533.4,154.7 534.6,155.6 535.1,156.4 535.2,157.7 535.6,158.5 536.3,159.3 536.6,160.2 536.5,161.7 536.7,162.7 536.9,163.9 537.1,164.9 537.8,164.9 538.1,165.9 537.9,167.8 538.1,168.8 538.7,169.9 538.9,170.9 539.2,171.8 539.4,172.8 539.1,172.5 539.3,173.5 539.5,174.5 539.7,175.5 539.9,176.4 540.1,177.4 540.2,178.8 540.5,179.8 540.9,180.4 541.1,181.4 541.1,182.9 541.3,184.2 541.6,185.5 541.9,186.8 542.6,188.9 542.9,190.0 543.2,190.3 543.5,191.1 543.2,191.4 543.5,191.7 544.0,191.9 544.3,191.6 544.7,191.1 545.2,190.2 546.0,188.7 546.4,187.6 546.8,186.8 547.2,185.6 547.5,184.5 547.9,183.5 548.2,182.6 548.5,181.6 549.1,180.7 549.5,179.8 549.6,178.5 550.0,177.5 550.5,176.6 550.8,175.7 551.1,174.5 551.4,173.6 551.7,172.7"/>
<polyline class="c" stroke="#f00" points="79.0,156.0 79.6,155.5 79.8,154.0 80.4,153.2 81.3,153.2 81.8,152.4 82.0,151.5 82.3,150.4 82.4,148.1 82.6,146.9 82.7,146.5 82.8,145.2 82.9,142.9 83.0,141.9 83.6,141.9 83.8,141.3 83.8,141.0 84.3,141.3 84.9,142.3 85.7,143.3 86.9,144.3 87.8,144.6 88.8,145.0 89.9,145.3 90.7,144.9 91.5,145.0 92.3,144.3 92.7,143.9 92.7,144.5 93.0,143.6 93.8,141.3 94.0,140.1 94.3,139.9 94.5,138.6 94.5,136.4 94.7,135.3 95.4,135.4 95.7,134.4 95.4,133.1 95.7,132.1 96.5,130.7 96.9,129.8 96.9,129.7 97.4,128.8 98.3,127.2 99.1,126.5 99.7,126.0 100.5,125.3 101.0,124.7 101.5,123.9 102.3,123.1 102.7,122.2 102.7,121.0 103.0,120.0 103.3,120.0 103.5,119.0 103.9,117.4 104.2,116.4 104.6,116.1 104.8,115.2 105.1,113.2 105.3,112.2 105.3,111.6 105.6,110.6 106.2,110.1 106.4,109.1 106.5,108.3 106.8,107.3 107.1,105.6 107.3,104.6 107.6,103.7 107.9,102.9 108.8,102.8 109.6,102.1 110.2,100.7 111.1,100.1 111.4,99.4 111.9,98.6 112.8,98.5 113.1,97.5 113.7,96.0 114.0,95.0 113.8,93.5 114.1,92.5 114.7,92.6 115.0,91.7 114.8,90.1 115.2,89.0 115.7,87.6 116.0,86.3 116.2,86.0 116.5,85.1 116.8,83.4 117.1,83.6 117.6,86.0 117.9,87.4 117.9,87.2 118.1,87.4 118.7,87.2 118.9,86.7 118.7,87.3 118.9,86.5 118.7,84.9 118.8,83.9 119.2,82.3 119.4,81.1 120.0,80.9 120.1,79.6 119.9,77.4 120.1,76.1 120.0,75.7 120.2,74.5 120.6,72.8 120.8,71.8 121.0,70.7 121.3,69.7 122.4,69.1 122.7,68.1 123.1,67.7 123.4,66.7 123.6,65.9 123.9,64.9 124.0,63.6 124.2,62.6 124.6,61.1 124.7,60.2 124.4,59.9 124.6,58.9 124.8,58.0 125.0,57.0 125.4,55.5 125.7,54.5 125.9,53.5 126.2,52.3 126.4,51.7 126.7,51.6 127.9,52.1 128.2,53.5 128.1,54.7 128.5,55.2 128.8,54.3 129.1,53.1 129.2,52.0 129.6,50.9 129.9,50.2 130.6,50.9 131.3,51.8 131.7,52.7 132.3,53.8 132.6,54.8 132.7,56.0 133.0,57.0 132.9,57.9 133.2,58.8 133.2,60.3 133.4,61.2 134.4,61.8 134.6,62.7 134.5,63.9 134.7,64.8 135.3,65.5 135.6,66.4 135.4,67.1 135.6,68.1 136.5,69.9 136.7,70.9 136.8,71.2 137.0,72.1 137.4,73.4 137.7,74.4 137.9,75.5 138.2,76.5 138.5,77.5 138.8,78.5 139.2,79.1 139.5,80.0 140.2,80.8 140.4,81.8 140.0,83.6 140.2,84.6 140.6,85.2 140.8,86.2 140.8,86.6 141.0,87.6 141.8,89.3 141.9,90.2 142.1,90.9 142.2,91.9 142.0,92.7 142.2,93.7 142.5,94.2 142.6,95.2 143.0,96.4 143.1,97.4 143.3,98.2 143.4,99.2 143.2,101.0 143.3,102.0 144.1,103.1 144.3,104.1 144.4,104.6 144.5,105.6 144.2,106.0 144.3,107.0 145.1,108.2 145.3,109.2 145.4,111.2 145.6,112.2 145.8,113.1 146.0,114.1 146.0,114.4 146.2,115.4 146.1,116.0 146.3,117.0 147.1,118.4 147.2,119.4 147.2,120.3 147.4,121.3 147.3,121.7 147.5,122.7 147.7,124.7 147.9,125.6 148.6,126.5 148.8,127.5 148.6,128.4 148.8,129.4 149.1,130.7 149.3,131.6 149.6,132.6 149.8,133.6 150.1,133.7 150.3,134.7 150.3,135.5 150.5,136.5 150.3,137.9 150.4,138.9 150.9,140.6 151.1,141.6 151.1,142.4 151.3,143.4 151.5,143.7 151.6,144.7 151.9,146.3 152.0,147.3 151.8,148.1 151.9,149.1 152.0,149.6 152.2,150.6 152.3,152.2 152.4,153.2 152.7,153.6 152.8,154.6 152.8,155.7 152.9,156.7 153.6,157.5 153.8,158.4 153.6,159.9 153.8,160.9 153.9,161.7 154.0,162.7 154.1,164.0 154.3,165.0 154.7,165.1 154.8,166.1 155.0,167.6 155.1,168.6 155.4,169.0 155.6,170.0 155.9,171.4 156.1,172.4 156.4,173.0 156.6,174.0 157.0,175.6 157.2,176.6 157.5,178.1 157.7,179.1 157.1,180.0 157.3,181.0 157.7,181.5 157.9,182.4 158.4,183.2 158.6,184.2 158.4,184.7 158.6,185.7 159.4,187.5 159.7,188.5 159.3,189.0 159.6,190.0 160.2,191.1 160.5,192.1 160.6,193.4 160.9,194.3 161.3,194.7 161.6,195.6 161.2,197.1 161.5,198.1 162.0,198.9 162.3,199.8 163.0,200.7 163.3,201.6 163.2,203.2 163.5,204.1 163.8,204.9 164.2,205.8 164.9,205.9 165.3,206.9 165.9,208.8 166.3,209.7 166.3,209.4 166.6,210.3 167.0,211.6 167.2,212.7 167.5,213.7 167.7,214.9 168.3,216.2 168.6,217.3 169.1,217.9 169.5,218.7 169.5,219.5 170.1,219.9 171.6,220.3 172.7,220.5 173.4,220.8 174.3,221.1 175.2,221.6 175.9,222.5 176.3,223.2 176.9,224.0 177.9,225.0 178.7,225.0 179.8,224.7 180.7,224.1 181.2,223.4 182.0,222.6 182.4,220.9 182.9,220.1 183.5,219.4 183.8,218.5 184.1,218.3 184.4,217.4 184.6,215.6 184.9,214.5 185.1,213.5 185.4,212.4 185.3,212.0 185.6,211.0 186.0,210.0 186.4,209.1 187.1,208.6 187.5,207.7 188.2,205.9 188.7,205.0 189.2,204.4 189.7,203.5 190.2,202.7 190.8,201.9 191.1,201.2 191.8,200.4 192.8,199.2 193.4,198.3 193.4,198.3 193.9,197.4 194.6,195.8 195.2,195.1 196.2,194.8 197.0,194.2 197.9,194.5 198.7,193.9 199.2,192.3 200.2,191.9 201.6,192.2 202.6,191.8 203.2,191.1 204.1,190.7 205.0,190.8 205.5,190.2 205.3,188.8 205.7,187.9 206.0,186.6 206.3,185.6 207.3,185.7 207.6,184.6 207.2,183.2 207.4,182.1 208.2,180.3 208.5,179.4 208.4,178.9 208.6,178.0 208.8,176.7 209.1,175.7 209.5,175.6 209.9,174.6 210.7,172.7 211.1,171.9 211.3,171.7 211.9,170.8 212.7,170.5 213.3,169.6 213.7,168.7 214.3,167.9 214.7,167.0 215.2,166.2 215.8,165.0 216.3,164.2 216.6,162.8 217.1,161.9 217.4,160.8 218.0,159.9 218.8,159.2 219.3,158.3 220.0,158.5 220.5,157.6 221.2,156.5 221.7,155.6 222.0,153.9 222.4,152.9 222.9,153.2 223.4,152.3 223.8,150.7 224.2,149.8 224.7,148.4 225.1,147.5 225.4,147.0 225.9,146.1 225.8,145.2 226.3,144.4 227.1,143.3 227.8,142.6 228.5,142.5 229.2,141.8 230.3,140.9 230.7,140.0 231.0,138.6 231.3,137.5 231.2,137.2 231.6,136.2 232.2,135.1 232.7,134.5 233.7,133.8 234.8,133.5 235.9,132.9 236.9,132.6 236.9,132.5 237.2,131.6 238.0,130.0 238.2,128.7 238.5,128.5 238.7,127.3 238.4,125.7 238.7,125.1 239.3,125.5 240.1,125.5 241.6,124.6 242.8,124.6 243.5,124.8 244.0,124.7 244.9,124.2 245.1,123.3 245.2,122.7 245.4,121.4 245.6,118.9 245.8,117.6 246.0,116.8 246.3,115.8 246.3,114.7 246.9,114.4 247.8,115.4 248.9,115.3 250.4,115.0 251.3,114.7 251.8,113.6 252.5,112.9 253.5,112.4 254.1,111.4 254.4,110.3 254.9,109.5 255.2,108.7 255.6,107.8 256.4,107.2 256.8,106.3 256.9,105.6 257.4,104.7 257.7,102.6 258.3,101.8 259.3,101.6 259.9,100.8 260.1,100.4 260.6,99.5 260.8,97.9 261.3,97.0 262.0,95.9 262.5,95.0 263.2,93.9 263.7,93.0 263.5,92.8 264.0,91.9 264.9,90.4 265.4,89.5 265.8,88.8 266.3,87.9 266.3,87.1 266.8,86.3 268.0,85.8 268.6,85.0 268.9,84.7 269.6,84.1 270.1,83.5 270.9,83.0 272.1,81.4 272.9,80.8 273.4,80.1 274.1,79.4 274.7,79.2 275.3,78.5 275.9,77.6 276.5,76.9 277.2,75.5 277.9,74.7 278.7,74.9 279.4,74.2 280.2,73.2 280.9,72.5 281.2,70.9 281.9,70.2 283.1,69.9 283.8,69.2 284.0,68.0 284.8,67.3 285.6,67.3 286.4,66.7 287.6,66.1 288.5,65.5 289.4,64.4 290.2,63.8 291.1,63.1 291.9,62.5 292.5,62.1 293.3,61.5 293.9,61.2 294.6,60.6 295.1,59.3 295.8,58.7 297.0,58.2 297.7,57.5 298.2,57.0 299.0,56.4 300.1,56.1 300.9,55.6 301.9,55.2 302.7,54.7 303.8,53.9 304.6,53.4 305.1,53.3 305.9,52.8 307.3,52.6 308.2,52.1 309.0,50.5 309.8,49.9 310.5,50.4 311.4,49.8 312.1,48.3 312.9,47.8 313.8,47.7 314.7,47.3 315.8,46.7 316.7,46.4 317.7,46.6 318.7,46.4 319.6,46.4 320.6,46.2 321.4,46.0 322.4,45.8 322.9,45.4 323.9,45.2 325.4,45.0 326.4,44.9 327.2,44.2 328.2,44.1 329.0,45.0 330.0,44.9 331.6,45.3 332.5,45.6 333.5,45.4 334.4,45.8 335.1,46.0 336.1,46.2 337.0,45.7 338.0,45.5 339.0,45.4 339.9,44.9 340.7,44.5 341.6,44.1 342.6,43.6 343.5,43.7 344.3,45.5 345.1,46.4 345.5,47.2 346.2,47.6 347.6,46.5 348.3,45.6 348.2,44.2 348.8,43.2 349.8,43.1 350.6,43.2 351.2,43.5 352.1,44.2 353.1,45.4 354.0,45.8 355.5,45.2 356.4,44.5 356.8,43.9 357.6,44.1 358.7,45.6 359.5,46.4 359.8,46.7 360.7,46.8 361.8,47.1 362.8,46.9 364.3,46.4 365.3,46.2 366.4,46.3 367.4,46.2 367.9,45.6 368.9,45.6 370.4,45.9 371.3,46.0 371.8,46.5 372.5,47.4 373.0,48.4 373.8,49.0 374.6,48.6 375.6,48.9 376.6,50.4 377.5,50.4 379.1,49.3 380.1,49.1 380.8,48.7 381.8,48.8 382.6,49.3 383.6,49.6 384.1,50.6 385.0,51.0 386.1,51.8 387.0,52.3 388.4,52.8 389.3,53.3 389.8,53.0 390.8,53.2 391.5,54.1 392.5,54.3 393.2,53.4 394.2,53.6 395.5,53.7 396.5,53.8 397.5,54.0 398.5,54.0 399.4,54.8 400.4,54.8 401.5,54.7 402.5,54.7 403.4,53.9 404.4,53.9 405.3,54.7 406.3,54.7 407.3,54.8 408.3,54.8 409.7,54.0 410.7,53.9 411.3,54.6 412.3,54.5 414.0,54.1 415.0,54.1 415.4,53.5 416.4,53.5 417.6,54.0 418.6,54.0 419.6,53.9 420.6,53.8 421.5,54.2 422.5,54.1 423.5,53.5 424.5,53.4 425.4,53.7 426.4,53.6 427.4,53.0 428.4,52.9 429.3,53.2 430.3,53.1 431.8,53.4 432.8,53.4 433.7,52.0 434.7,51.9 435.5,52.5 436.4,52.3 437.9,52.1 438.9,51.8 439.5,52.1 440.4,51.9 441.6,50.9 442.5,51.1 443.4,52.3 444.4,52.9 445.1,53.0 445.8,53.6 446.9,54.6 447.5,55.3 448.0,56.5 448.5,57.4 449.0,58.2 449.5,59.2 450.0,59.6 450.3,60.5 449.9,61.4 450.2,62.3 450.9,64.2 451.2,65.1 451.9,65.6 452.2,66.6 451.7,68.2 452.0,69.2 452.3,69.7 452.5,70.7 452.9,71.1 453.1,72.1 453.4,73.0 453.5,73.9 453.4,75.2 453.5,76.1 453.6,77.7 453.7,78.7 454.2,79.3 454.4,80.3 453.8,81.5 453.9,82.5 454.7,83.5 454.8,84.5 454.6,84.9 454.7,85.9 455.0,87.1 455.2,88.1 455.4,89.0 455.5,90.0 455.1,91.9 455.3,92.9 456.1,92.6 456.3,93.6 456.3,95.9 456.5,96.9 456.3,96.7 456.4,97.7 456.4,99.3 456.5,100.3 456.5,100.9 456.7,101.9 457.0,102.9 457.1,103.9 457.5,105.5 457.6,106.5 457.8,107.4 457.9,108.4 457.6,109.5 457.7,110.5 457.7,110.7 457.8,111.7 458.0,112.7 458.1,113.7 458.7,115.5 458.8,116.5 458.1,116.6 458.2,117.6 458.4,119.7 458.5,120.7 459.0,121.7 459.1,122.7 458.7,123.1 458.8,124.1 459.0,125.4 459.1,126.4 459.6,126.8 459.7,127.8 459.3,129.3 459.4,130.3 459.7,130.4 459.8,131.4 459.9,132.7 460.0,133.7 459.8,135.0 459.9,136.0 460.0,137.0 460.1,138.0 460.2,139.7 460.3,140.7 460.8,141.8 460.9,142.8 460.3,142.5 460.4,143.5 460.6,144.7 460.7,145.7 461.0,146.5 461.1,147.5 461.1,148.8 461.3,149.8 461.7,151.6 461.9,152.6 462.0,153.0 462.2,154.1 462.5,154.6 462.9,155.9 463.0,157.5 463.3,158.0 463.8,158.5 464.0,158.1 464.5,157.4 464.7,156.4 465.0,155.1 465.2,153.8 465.1,152.3 465.3,151.1 465.8,149.2 465.9,148.2 465.5,148.1 465.7,147.1 465.9,145.3 466.1,144.3 466.8,144.1 466.9,143.2 466.8,141.0 466.9,140.0 467.0,139.0 467.2,138.1 467.6,138.1 467.8,137.1 467.8,135.2 467.9,134.2 468.6,133.7 468.8,132.7 468.5,131.6 468.7,130.6 469.3,129.5 469.5,128.5 469.5,127.7 469.7,126.7 470.1,125.9 470.4,124.9 470.2,124.4 470.4,123.5 471.1,122.2 471.3,121.2 471.2,120.6 471.5,119.7 471.2,118.6 471.5,117.6 472.3,115.7 472.6,114.7 473.0,114.1 473.2,113.2 472.8,112.4 473.1,111.4 474.1,110.1 474.4,109.1 474.3,108.6 474.6,107.6 475.1,107.2 475.4,106.3 475.2,104.3 475.5,103.3 476.4,103.1 476.8,102.2 476.8,101.5 477.2,100.6 477.4,98.6 477.7,97.7 478.4,97.6 478.8,96.6 478.8,94.7 479.1,93.8 479.5,93.9 479.9,93.0 479.9,91.2 480.3,90.3 481.2,89.4 481.7,88.5 482.4,88.6 482.9,87.7 483.2,86.1 483.8,85.3 484.7,84.4 485.3,83.6 485.9,82.9 486.5,82.2 486.9,82.0 487.6,81.3 488.7,79.7 489.4,79.0 490.1,78.5 490.8,77.8 491.4,77.0 492.0,76.3 492.9,76.0 493.4,75.2 493.5,73.7 494.0,72.8 494.7,73.2 495.3,72.3 495.9,70.8 496.5,70.0 497.5,69.5 498.2,68.6 498.7,67.2 499.5,66.6 500.3,67.2 501.2,67.6 501.8,66.9 502.9,66.9 503.9,66.8 504.3,66.4 504.7,66.8 505.0,65.8 505.8,63.6 506.0,62.4 505.9,61.6 506.2,60.6 507.0,59.7 507.4,58.8 507.6,57.4 508.1,56.5 508.7,56.2 509.2,55.3 508.9,53.9 509.3,53.0 510.6,52.7 511.0,51.8 511.5,50.4 512.0,49.5 511.7,48.8 512.2,47.9 512.5,47.0 512.9,46.1 513.5,44.5 514.0,43.6 514.7,42.9 515.2,42.0 515.7,41.2 516.4,40.3 517.0,40.0 517.8,39.4 518.9,39.6 519.8,40.2 520.3,41.7 520.7,42.6 521.2,42.6 521.3,43.5 521.1,44.1 521.3,45.1 521.0,47.2 521.1,48.2 521.8,48.6 521.9,49.7 522.0,51.3 522.0,52.4 521.6,52.6 521.7,53.6 522.1,54.3 522.2,55.3 522.2,56.8 522.3,57.8 522.1,59.5 522.2,60.5 522.7,60.2 522.9,61.2 523.1,62.8 523.3,63.8 523.4,65.3 523.5,66.3 523.7,66.4 523.8,67.4 524.0,69.2 524.1,70.1 524.3,70.1 524.4,71.1 524.6,72.5 524.7,73.5 524.2,74.2 524.3,75.2 525.1,77.4 525.2,78.4 524.9,78.8 525.0,79.8 525.3,80.4 525.4,81.4 525.2,83.3 525.3,84.3 525.1,84.7 525.2,85.7 525.8,86.5 525.9,87.5 525.8,88.9 525.9,89.9 526.1,90.9 526.2,91.9 526.1,93.3 526.2,94.3 526.2,94.0 526.3,95.0 526.5,97.1 526.6,98.1 527.1,98.8 527.2,99.8 527.3,100.1 527.4,101.1 527.5,102.5 527.6,103.5 527.2,104.0 527.3,105.0 527.6,107.1 527.7,108.1 527.3,108.0 527.3,109.0 527.9,110.2 528.0,111.2 527.8,112.9 527.8,113.9 528.3,114.9 528.4,115.9 527.9,116.2 528.0,117.2 528.6,118.1 528.7,119.1 528.2,119.9 528.3,120.9 529.1,121.9 529.2,122.9 529.0,125.0 529.2,126.0 529.1,126.0 529.2,127.0 529.5,128.3 529.6,129.3 530.1,130.8 530.2,131.8 530.1,133.1 530.3,134.1 530.2,134.9 530.3,135.9 530.5,137.0 530.6,138.0 531.1,138.9 531.3,139.8 531.4,140.2 531.5,141.1 531.2,142.5 531.3,143.5 532.1,144.6 532.3,145.6 532.0,146.1 532.2,147.1 532.6,148.3 532.8,149.3 532.9,150.8 533.2,151.7 533.9,151.8 534.2,152.8 534.8,154.5 535.0,155.5 535.3,156.6 535.6,157.6 535.4,158.0 535.6,158.9 535.5,160.4 535.7,161.4 536.2,162.1 536.4,163.1 536.4,164.0 536.6,165.0 536.8,165.2 537.0,166.1 537.1,168.0 537.3,169.0 538.0,169.2 538.2,170.2 537.9,172.0 538.0,173.0 537.8,173.0 537.9,174.0 538.5,176.1 538.6,177.1 538.8,177.1 539.0,178.1 539.2,180.1 539.3,181.1 539.3,182.1 539.4,183.1 539.5,183.0 539.6,184.0 539.2,185.0 539.3,186.0 539.6,188.2 539.7,189.2 539.9,190.2 540.0,191.2 539.9,190.9 540.0,191.9 540.4,193.7 540.5,194.7 540.4,195.3 540.5,196.3 540.6,196.8 540.8,197.8 541.5,199.9 541.7,200.9 541.3,201.6 541.4,202.6 541.9,202.8 542.0,203.8 542.3,205.4 542.5,206.7 543.0,207.9 543.2,209.2 542.8,211.2 543.1,212.2 543.2,213.0 543.5,213.5 544.4,212.6 544.7,212.3 544.7,212.3 545.3,211.1 545.9,209.9 546.4,208.8 546.8,207.6 547.2,206.6 547.7,205.5 548.1,204.3 548.4,203.0 548.7,201.8 549.1,200.7 549.5,200.0 549.9,200.2 550.3,200.4 550.9,201.2 551.3,202.3 551.6,203.6 551.9,204.7 552.3,205.3 552.4,206.3 552.4,207.0 552.6,207.9 552.7,209.5 552.9,210.5 553.3,211.0 553.4,212.0 553.2,213.0 553.3,214.0 553.6,215.0 553.7,216.0 553.8,217.3 553.9,218.3 554.0,219.2 554.1,220.2 554.0,221.4 554.1,222.4 554.2,222.9 554.3,223.9 554.8,224.9 554.9,225.9 554.7,227.5 554.9,228.5 555.1,228.9 555.2,229.9 555.7,231.1 555.9,232.0 556.0,232.8 556.2,233.8 556.4,235.5 556.7,236.8 556.8,238.0 557.1,238.9 557.4,239.1 557.7,238.8 558.1,237.7 558.5,236.5 558.9,235.8 559.5,234.7 560.4,233.5 561.4,233.0 562.1,233.0 562.5,233.2 562.9,233.7 563.1,234.5 563.1,236.0 563.2,237.3 563.5,238.5 563.7,239.8 563.9,240.9 564.0,242.1 564.1,242.8 564.3,243.8 564.5,244.8 564.7,245.8 564.7,246.8 564.9,247.8 565.1,248.8 565.2,249.8 565.3,250.5 565.5,251.5 565.8,252.5 566.0,253.5 566.0,254.8 566.2,255.8 566.4,256.9 566.6,257.8 566.8,258.9 567.0,259.9 567.0,260.7 567.2,261.7 567.7,262.6 567.9,263.5 568.0,264.2 568.2,265.2 568.2,266.2 568.4,267.1 568.9,268.2 569.0,269.1 569.1,270.5 569.3,271.5 569.7,272.2 569.9,273.2 569.8,274.2 570.0,275.2 570.1,276.0 570.3,277.0 570.5,278.0 570.7,279.0 571.1,280.1 571.3,281.1 571.5,282.2 571.7,283.2 571.7,284.4 571.9,285.4 572.2,285.8 572.4,286.8 572.6,287.9 572.8,288.9 573.2,290.3 573.4,291.3 573.2,292.2 573.4,293.2 573.6,294.2 573.8,295.2 574.1,295.9 574.3,296.9 574.3,297.7 574.5,298.6 575.0,299.6 575.1,300.6 575.0,301.8 575.2,302.8 575.3,303.8 575.5,304.8 575.6,305.8 575.7,306.8 575.9,307.8 576.1,308.8 576.1,309.8 576.3,310.8 576.5,311.7 576.6,312.7 576.8,313.7 576.9,314.7 577.1,315.7 577.2,316.6 577.5,317.7 577.7,318.7 577.8,319.6 578.0,320.5 578.3,321.5 578.5,322.5 578.6,323.4 578.8,324.4 579.0,325.4 579.2,326.4 579.4,327.3 579.6,328.3 579.8,329.3 580.0,330.3 580.3,331.3 580.5,332.3 580.7,333.3 580.9,334.3 581.0,335.3 581.2,336.3 581.4,337.2 581.6,338.2 581.8,339.2 581.9,340.2 582.2,341.2 582.3,342.1 582.5,343.2 582.7,344.2 582.8,345.1 583.0,346.1 583.2,347.1 583.4,348.1 583.6,349.1 583.8,350.1 584.0,351.1 584.3,352.0 584.5,352.9 584.7,353.9 584.9,354.9 585.2,355.9 585.6,356.7 585.9,357.6 586.2,358.7 586.5,359.6 586.9,360.6 587.1,361.5 587.4,362.4 587.7,363.4 587.9,364.3 588.1,365.3 588.4,366.3 588.6,367.3 588.8,368.3 589.0,369.3 589.3,370.3 589.5,371.3 589.8,372.2 590.0,373.1 590.2,374.1 590.5,375.1 590.7,376.2 591.0,377.1 591.3,378.0 591.6,378.9 591.9,380.0 592.2,380.9 592.5,381.8 592.8,382.8 593.1,383.7 593.5,384.6 593.9,385.7 594.2,386.6 594.5,387.4 594.9,388.4 595.3,389.3 595.7,390.2 596.1,391.2 596.5,392.1 596.9,392.9 597.3,393.8 597.8,394.9 598.2,395.8 598.7,396.6 599.2,397.5 599.7,398.3 600.2,399.2 600.8,400.0 601.3,400.8 601.8,401.8 602.3,402.6 602.9,403.3 603.5,404.1 604.1,405.0 604.8,405.8 605.5,406.5 606.2,407.2 606.9,408.0 607.6,408.7 608.3,409.3 609.0,409.9 609.8,410.6 610.6,411.2 611.3,411.7 612.2,412.3 613.1,412.9 613.9,413.4 614.8,414.0 615.7,414.5 616.6,415.0 617.5,415.4 618.5,415.8 619.4,416.2 620.3,416.5 621.2,416.8 622.1,417.1 623.1,417.4 624.0,417.8 625.0,418.1 626.0,418.3 627.0,418.5 627.9,418.7 628.9,418.9 629.9,419.1 630.8,419.3 631.9,419.5 632.9,419.6 633.8,419.7 634.8,419.9 635.8,420.0 636.8,420.1 637.8,420.2 638.8,420.3 639.8,420.4 640.8,420.5 641.8,420.6 642.8,420.8 643.8,421.0 644.7,421.2 645.7,421.5 646.7,421.7 647.8,421.7 648.7,421.8 649.8,422.0 650.8,422.0 651.7,422.0 652.7,421.9 653.7,421.7 654.7,421.5 655.7,421.3 656.7,421.1 657.6,420.9 658.6,420.6 659.6,420.2 660.5,419.9 661.5,419.7 662.4,419.3 663.0,419.0"/>
<polyline class="c k" stroke="#f00" points="79.0,156.0 79.6,155.5 79.8,154.0 80.4,153.2 81.3,153.2 81.8,152.4 82.0,151.5 82.3,150.4 82.4,148.1 82.6,146.9 82.7,146.5 82.8,145.2 82.9,142.9 83.0,141.9 83.6,141.9 83.8,141.3 83.8,141.0 84.3,141.3 84.9,142.3 85.7,143.3 86.9,144.3 87.8,144.6 88.8,145.0 89.9,145.3 90.7,144.9 91.5,145.0 92.3,144.3 92.7,143.9 92.7,144.5 93.0,143.6 93.8,141.3 94.0,140.1 94.3,139.9 94.5,138.6 94.5,136.4 94.7,135.3 95.4,135.4 95.7,134.4 95.4,133.1 95.7,132.1 96.5,130.7 96.9,129.8 96.9,129.7 97.4,128.8 98.3,127.2 99.1,126.5 99.7,126.0 100.5,125.3 101.0,124.7 101.5,123.9 102.3,123.1 102.7,122.2 102.7,121.0 103.0,120.0 103.3,120.0 103.5,119.0 103.9,117.4 104.2,116.4 104.6,116.1 104.8,115.2 105.1,113.2 105.3,112.2 105.3,111.6 105.6,110.6 106.2,110.1 106.4,109.1 106.5,108.3 106.8,107.3 107.1,105.6 107.3,104.6 107.6,103.7 107.9,102.9 108.8,102.8 109.6,102.1 110.2,100.7 111.1,100.1 111.4,99.4 111.9,98.6 112.8,98.5 113.1,97.5 113.7,96.0 114.0,95.0 113.8,93.5 114.1,92.5 114.7,92.6 115.0,91.7 114.8,90.1 115.2,89.0 115.7,87.6 116.0,86.3 116.2,86.0 116.5,85.1 116.8,83.4 117.1,83.6 117.6,86.0 117.9,87.4 117.9,87.2 118.1,87.4 118.7,87.2 118.9,86.7 118.7,87.3 118.9,86.5 118.7,84.9 118.8,83.9 119.2,82.3 119.4,81.1 120.0,80.9 120.1,79.6 119.9,77.4 120.1,76.1 120.0,75.7 120.2,74.5 120.6,72.8 120.8,71.8 121.0,70.7 121.3,69.7 122.4,69.1 122.7,68.1 123.1,67.7 123.4,66.7 123.6,65.9 123.9,64.9 124.0,63.6 124.2,62.6 124.6,61.1 124.7,60.2 124.4,59.9 124.6,58.9 124.8,58.0 125.0,57.0 125.4,55.5 125.7,54.5 125.9,53.5 126.2,52.3 126.4,51.7 126.7,51.6 127.9,52.1 128.2,53.5 128.1,54.7 128.5,55.2 128.8,54.3 129.1,53.1 129.2,52.0 129.6,50.9 129.9,50.2 130.6,50.9 131.3,51.8 131.7,52.7 132.3,53.8 132.6,54.8 132.7,56.0 133.0,57.0 132.9,57.9 133.2,58.8 133.2,60.3 133.4,61.2 134.4,61.8 134.6,62.7 134.5,63.9 134.7,64.8 135.3,65.5 135.6,66.4 135.4,67.1 135.6,68.1 136.5,69.9 136.7,70.9 136.8,71.2 137.0,72.1 137.4,73.4 137.7,74.4 137.9,75.5 138.2,76.5 138.5,77.5 138.8,78.5 139.2,79.1 139.5,80.0 140.2,80.8 140.4,81.8 140.0,83.6 140.2,84.6 140.6,85.2 140.8,86.2 140.8,86.6 141.0,87.6 141.8,89.3 141.9,90.2 142.1,90.9 142.2,91.9 142.0,92.7 142.2,93.7 142.5,94.2 142.6,95.2 143.0,96.4 143.1,97.4 143.3,98.2 143.4,99.2 143.2,101.0 143.3,102.0 144.1,103.1 144.3,104.1 144.4,104.6 144.5,105.6 144.2,106.0 144.3,107.0 145.1,108.2 145.3,109.2 145.4,111.2 145.6,112.2 145.8,113.1 146.0,114.1 146.0,114.4 146.2,115.4 146.1,116.0 146.3,117.0 147.1,118.4 147.2,119.4 147.2,120.3 147.4,121.3 147.3,121.7 147.5,122.7 147.7,124.7 147.9,125.6 148.6,126.5 148.8,127.5 148.6,128.4 148.8,129.4 149.1,130.7 149.3,131.6 149.6,132.6 149.8,133.6 150.1,133.7 150.3,134.7 150.3,135.5 150.5,136.5 150.3,137.9 150.4,138.9 150.9,140.6 151.1,141.6 151.1,142.4 151.3,143.4 151.5,143.7 151.6,144.7 151.9,146.3 152.0,147.3 151.8,148.1 151.9,149.1 152.0,149.6 152.2,150.6 152.3,152.2 152.4,153.2 152.7,153.6 152.8,154.6 152.8,155.7 152.9,156.7 153.6,157.5 153.8,158.4 153.6,159.9 153.8,160.9 153.9,161.7 154.0,162.7 154.1,164.0 154.3,165.0 154.7,165.1 154.8,166.1 155.0,167.6 155.1,168.6 155.4,169.0 155.6,170.0 155.9,171.4 156.1,172.4 156.4,173.0 156.6,174.0 157.0,175.6 157.2,176.6 157.5,178.1 157.7,179.1 157.1,180.0 157.3,181.0 157.7,181.5 157.9,182.4 158.4,183.2 158.6,184.2 158.4,184.7 158.6,185.7 159.4,187.5 159.7,188.5 159.3,189.0 159.6,190.0 160.2,191.1 160.5,192.1 160.6,193.4 160.9,194.3 161.3,194.7 161.6,195.6 161.2,197.1 161.5,198.1 162.0,198.9 162.3,199.8 163.0,200.7 163.3,201.6 163.2,203.2 163.5,204.1 163.8,204.9 164.2,205.8 164.9,205.9 165.3,206.9 165.9,208.8 166.3,209.7 166.3,209.4 166.6,210.3 167.0,211.6 167.2,212.7 167.5,213.7 167.7,214.9 168.3,216.2 168.6,217.3 169.1,217.9 169.5,218.7 169.5,219.5 170.1,219.9 171.6,220.3 172.7,220.5 173.4,220.8 174.3,221.1 175.2,221.6 175.9,222.5 176.3,223.2 176.9,224.0 177.9,225.0 178.7,225.0 179.8,224.7 180.7,224.1 181.2,223.4 182.0,222.6 182.4,220.9 182.9,220.1 183.5,219.4 183.8,218.5 184.1,218.3 184.4,217.4 184.6,215.6 184.9,214.5 185.1,213.5 185.4,212.4 185.3,212.0 185.6,211.0 186.0,210.0 186.4,209.1 187.1,208.6 187.5,207.7 188.2,205.9 188.7,205.0 189.2,204.4 189.7,203.5 190.2,202.7 190.8,201.9 191.1,201.2 191.8,200.4 192.8,199.2 193.4,198.3 193.4,198.3 193.9,197.4 194.6,195.8 195.2,195.1 196.2,194.8 197.0,194.2 197.9,194.5 198.7,193.9 199.2,192.3 200.2,191.9 201.6,192.2 202.6,191.8 203.2,191.1 204.1,190.7 205.0,190.8 205.5,190.2 205.3,188.8 205.7,187.9 206.0,186.6 206.3,185.6 207.3,185.7 207.6,184.6 207.2,183.2 207.4,182.1 208.2,180.3 208.5,179.4 208.4,178.9 208.6,178.0 208.8,176.7 209.1,175.7 209.5,175.6 209.9,174.6 210.7,172.7 211.1,171.9 211.3,171.7 211.9,170.8 212.7,170.5 213.3,169.6 213.7,168.7 214.3,167.9 214.7,167.0 215.2,166.2 215.8,165.0 216.3,164.2 216.6,162.8 217.1,161.9 217.4,160.8 218.0,159.9 218.8,159.2 219.3,158.3 220.0,158.5 220.5,157.6 221.2,156.5 221.7,155.6 222.0,153.9 222.4,152.9 222.9,153.2 223.4,152.3 223.8,150.7 224.2,149.8 224.7,148.4 225.1,147.5 225.4,147.0 225.9,146.1 225.8,145.2 226.3,144.4 227.1,143.3 227.8,142.6 228.5,142.5 229.2,141.8 230.3,140.9 230.7,140.0 231.0,138.6 231.3,137.5 231.2,137.2 231.6,136.2 232.2,135.1 232.7,134.5 233.7,133.8 234.8,133.5 235.9,132.9 236.9,132.6 236.9,132.5 237.2,131.6 238.0,130.0 238.2,128.7 238.5,128.5 238.7,127.3 238.4,125.7 238.7,125.1 239.3,125.5 240.1,125.5 241.6,124.6 242.8,124.6 243.5,124.8 244.0,124.7 244.9,124.2 245.1,123.3 245.2,122.7 245.4,121.4 245.6,118.9 245.8,117.6 246.0,116.8 246.3,115.8 246.3,114.7 246.9,114.4 247.8,115.4 248.9,115.3 250.4,115.0 251.3,114.7 251.8,113.6 252.5,112.9 253.5,112.4 254.1,111.4 254.4,110.3 254.9,109.5 255.2,108.7 255.6,107.8 256.4,107.2 256.8,106.3 256.9,105.6 257.4,104.7 257.7,102.6 258.3,101.8 259.3,101.6 259.9,100.8 260.1,100.4 260.6,99.5 260.8,97.9 261.3,97.0 262.0,95.9 262.5,95.0 263.2,93.9 263.7,93.0 263.5,92.8 264.0,91.9 264.9,90.4 265.4,89.5 265.8,88.8 266.3,87.9 266.3,87.1 266.8,86.3 268.0,85.8 268.6,85.0 268.9,84.7 269.6,84.1 270.1,83.5 270.9,83.0 272.1,81.4 272.9,80.8 273.4,80.1 274.1,79.4 274.7,79.2 275.3,78.5 275.9,77.6 276.5,76.9 277.2,75.5 277.9,74.7 278.7,74.9 279.4,74.2 280.2,73.2 280.9,72.5 281.2,70.9 281.9,70.2 283.1,69.9 283.8,69.2 284.0,68.0 284.8,67.3 285.6,67.3 286.4,66.7 287.6,66.1 288.5,65.5 289.4,64.4 290.2,63.8 291.1,63.1 291.9,62.5 292.5,62.1 293.3,61.5 293.9,61.2 294.6,60.6 295.1,59.3 295.8,58.7 297.0,58.2 297.7,57.5 298.2,57.0 299.0,56.4 300.1,56.1 300.9,55.6 301.9,55.2 302.7,54.7 303.8,53.9 304.6,53.4 305.1,53.3 305.9,52.8 307.3,52.6 308.2,52.1 309.0,50.5 309.8,49.9 310.5,50.4 311.4,49.8 312.1,48.3 312.9,47.8 313.8,47.7 314.7,47.3 315.8,46.7 316.7,46.4 317.7,46.6 318.7,46.4 319.6,46.4 320.6,46.2 321.4,46.0 322.4,45.8 322.9,45.4 323.9,45.2 325.4,45.0 326.4,44.9 327.2,44.2 328.2,44.1 329.0,45.0 330.0,44.9 331.6,45.3 332.5,45.6 333.5,45.4 334.4,45.8 335.1,46.0 336.1,46.2 337.0,45.7 338.0,45.5 339.0,45.4 339.9,44.9 340.7,44.5 341.6,44.1 342.6,43.6 343.5,43.7 344.3,45.5 345.1,46.4 345.5,47.2 346.2,47.6 347.6,46.5 348.3,45.6 348.2,44.2 348.8,43.2 349.8,43.1 350.6,43.2 351.2,43.5 352.1,44.2 353.1,45.4 354.0,45.8 355.5,45.2 356.4,44.5 356.8,43.9 357.6,44.1 358.7,45.6 359.5,46.4 359.8,46.7 360.7,46.8 361.8,47.1 362.8,46.9 364.3,46.4 365.3,46.2 366.4,46.3 367.4,46.2 367.9,45.6 368.9,45.6 370.4,45.9 371.3,46.0 371.8,46.5 372.5,47.4 373.0,48.4 373.8,49.0 374.6,48.6 375.6,48.9 376.6,50.4 377.5,50.4 379.1,49.3 380.1,49.1 380.8,48.7 381.8,48.8 382.6,49.3 383.6,49.6 384.1,50.6 385.0,51.0 386.1,51.8 387.0,52.3 388.4,52.8 389.3,53.3 389.8,53.0 390.8,53.2 391.5,54.1 392.5,54.3 393.2,53.4 394.2,53.6 395.5,53.7 396.5,53.8 397.5,54.0 398.5,54.0 399.4,54.8 400.4,54.8 401.5,54.7 402.5,54.7 403.4,53.9 404.4,53.9 405.3,54.7 406.3,54.7 407.3,54.8 408.3,54.8 409.7,54.0 410.7,53.9 411.3,54.6 412.3,54.5 414.0,54.1 415.0,54.1 415.4,53.5 416.4,53.5 417.6,54.0 418.6,54.0 419.6,53.9 420.6,53.8 421.5,54.2 422.5,54.1 423.5,53.5 424.5,53.4 425.4,53.7 426.4,53.6 427.4,53.0 428.4,52.9 429.3,53.2 430.3,53.1 431.8,53.4 432.8,53.4 433.7,52.0 434.7,51.9 435.5,52.5 436.4,52.3 437.9,52.1 438.9,51.8 439.5,52.1 440.4,51.9 441.6,50.9 442.5,51.1 443.4,52.3 444.4,52.9 445.1,53.0 445.8,53.6 446.9,54.6 447.5,55.3 448.0,56.5 448.5,57.4 449.0,58.2 449.5,59.2 450.0,59.6 450.3,60.5 449.9,61.4 450.2,62.3 450.9,64.2 451.2,65.1 451.9,65.6 452.2,66.6 451.7,68.2 452.0,69.2 452.3,69.7 452.5,70.7 452.9,71.1 453.1,72.1 453.4,73.0 453.5,73.9 453.4,75.2 453.5,76.1 453.6,77.7 453.7,78.7 454.2,79.3 454.4,80.3 453.8,81.5 453.9,82.5 454.7,83.5 454.8,84.5 454.6,84.9 454.7,85.9 455.0,87.1 455.2,88.1 455.4,89.0 455.5,90.0 455.1,91.9 455.3,92.9 456.1,92.6 456.3,93.6 456.3,95.9 456.5,96.9 456.3,96.7 456.4,97.7 456.4,99.3 456.5,100.3 456.5,100.9 456.7,101.9 457.0,102.9 457.1,103.9 457.5,105.5 457.6,106.5 457.8,107.4 457.9,108.4 457.6,109.5 457.7,110.5 457.7,110.7 457.8,111.7 458.0,112.7 458.1,113.7 458.7,115.5 458.8,116.5 458.1,116.6 458.2,117.6 458.4,119.7 458.5,120.7 459.0,121.7 459.1,122.7 458.7,123.1 458.8,124.1 459.0,125.4 459.1,126.4 459.6,126.8 459.7,127.8 459.3,129.3 459.4,130.3 459.7,130.4 459.8,131.4 459.9,132.7 460.0,133.7 459.8,135.0 459.9,136.0 460.0,137.0 460.1,138.0 460.2,139.7 460.3,140.7 460.8,141.8 460.9,142.8 460.3,142.5 460.4,143.5 460.6,144.7 460.7,145.7 461.0,146.5 461.1,147.5 461.1,148.8 461.3,149.8 461.7,151.6 461.9,152.6 462.0,153.0 462.2,154.1 462.5,154.6 462.9,155.9 463.0,157.5 463.3,158.0 463.8,158.5 464.0,158.1 464.5,157.4 464.7,156.4 465.0,155.1 465.2,153.8 465.1,152.3 465.3,151.1 465.8,149.2 465.9,148.2 465.5,148.1 465.7,147.1 465.9,145.3 466.1,144.3 466.8,144.1 466.9,143.2 466.8,141.0 466.9,140.0 467.0,139.0 467.2,138.1 467.6,138.1 467.8,137.1 467.8,135.2 467.9,134.2 468.6,133.7 468.8,132.7 468.5,131.6 468.7,130.6 469.3,129.5 469.5,128.5 469.5,127.7 469.7,126.7 470.1,125.9 470.4,124.9 470.2,124.4 470.4,123.5 471.1,122.2 471.3,121.2 471.2,120.6 471.5,119.7 471.2,118.6 471.5,117.6 472.3,115.7 472.6,114.7 473.0,114.1 473.2,113.2 472.8,112.4 473.1,111.4 474.1,110.1 474.4,109.1 474.3,108.6 474.6,107.6 475.1,107.2 475.4,106.3 475.2,104.3 475.5,103.3 476.4,103.1 476.8,102.2 476.8,101.5 477.2,100.6 477.4,98.6 477.7,97.7 478.4,97.6 478.8,96.6 478.8,94.7 479.1,93.8 479.5,93.9 479.9,93.0 479.9,91.2 480.3,90.3 481.2,89.4 481.7,88.5 482.4,88.6 482.9,87.7 483.2,86.1 483.8,85.3 484.7,84.4 485.3,83.6 485.9,82.9 486.5,82.2 486.9,82.0 487.6,81.3 488.7,79.7 489.4,79.0 490.1,78.5 490.8,77.8 491.4,77.0 492.0,76.3 492.9,76.0 493.4,75.2 493.5,73.7 494.0,72.8 494.7,73.2 495.3,72.3 495.9,70.8 496.5,70.0 497.5,69.5 498.2,68.6 498.7,67.2 499.5,66.6 500.3,67.2 501.2,67.6 501.8,66.9 502.9,66.9 503.9,66.8 504.3,66.4 504.7,66.8 505.0,65.8 505.8,63.6 506.0,62.4 505.9,61.6 506.2,60.6 507.0,59.7 507.4,58.8 507.6,57.4 508.1,56.5 508.7,56.2 509.2,55.3 508.9,53.9 509.3,53.0 510.6,52.7 511.0,51.8 511.5,50.4 512.0,49.5 511.7,48.8 512.2,47.9 512.5,47.0 512.9,46.1 513.5,44.5 514.0,43.6 514.7,42.9 515.2,42.0 515.7,41.2 516.4,40.3 517.0,40.0 517.8,39.4 518.9,39.6 519.8,40.2 520.3,41.7 520.7,42.6 521.2,42.6 521.3,43.5 521.1,44.1 521.3,45.1 521.0,47.2 521.1,48.2 521.8,48.6 521.9,49.7 522.0,51.3 522.0,52.4 521.6,52.6 521.7,53.6 522.1,54.3 522.2,55.3 522.2,56.8 522.3,57.8 522.1,59.5 522.2,60.5 522.7,60.2 522.9,61.2 523.1,62.8 523.3,63.8 523.4,65.3 523.5,66.3 523.7,66.4 523.8,67.4 524.0,69.2 524.1,70.1 524.3,70.1 524.4,71.1 524.6,72.5 524.7,73.5 524.2,74.2 524.3,75.2 525.1,77.4 525.2,78.4 524.9,78.8 525.0,79.8 525.3,80.4 525.4,81.4 525.2,83.3 525.3,84.3 525.1,84.7 525.2,85.7 525.8,86.5 525.9,87.5 525.8,88.9 525.9,89.9 526.1,90.9 526.2,91.9 526.1,93.3 526.2,94.3 526.2,94.0 526.3,95.0 526.5,97.1 526.6,98.1 527.1,98.8 527.2,99.8 527.3,100.1 527.4,101.1 527.5,102.5 527.6,103.5 527.2,104.0 527.3,105.0 527.6,107.1 527.7,108.1 527.3,108.0 527.3,109.0 527.9,110.2 528.0,111.2 527.8,112.9 527.8,113.9 528.3,114.9 528.4,115.9 527.9,116.2 528.0,117.2 528.6,118.1 528.7,119.1 528.2,119.9 528.3,120.9 529.1,121.9 529.2,122.9 529.0,125.0 529.2,126.0 529.1,126.0 529.2,127.0 529.5,128.3 529.6,129.3 530.1,130.8 530.2,131.8 530.1,133.1 530.3,134.1 530.2,134.9 530.3,135.9 530.5,137.0 530.6,138.0 531.1,138.9 531.3,139.8 531.4,140.2 531.5,141.1 531.2,142.5 531.3,143.5 532.1,144.6 532.3,145.6 532.0,146.1 532.2,147.1 532.6,148.3 532.8,149.3 532.9,150.8 533.2,151.7 533.9,151.8 534.2,152.8 534.8,154.5 535.0,155.5 535.3,156.6 535.6,157.6 535.4,158.0 535.6,158.9 535.5,160.4 535.7,161.4 536.2,162.1 536.4,163.1 536.4,164.0 536.6,165.0 536.8,165.2 537.0,166.1 537.1,168.0 537.3,169.0 538.0,169.2 538.2,170.2 537.9,172.0 538.0,173.0 537.8,173.0 537.9,174.0 538.5,176.1 538.6,177.1 538.8,177.1 539.0,178.1 539.2,180.1 539.3,181.1 539.3,182.1 539.4,183.1 539.5,183.0 539.6,184.0 539.2,185.0 539.3,186.0 539.6,188.2 539.7,189.2 539.9,190.2 540.0,191.2 539.9,190.9 540.0,191.9 540.4,193.7 540.5,194.7 540.4,195.3 540.5,196.3 540.6,196.8 540.8,197.8 541.5,199.9 541.7,200.9 541.3,201.6 541.4,202.6 541.9,202.8 542.0,203.8 542.3,205.4 542.5,206.7 543.0,207.9 543.2,209.2 542.8,211.2 543.1,212.2 543.2,213.0 543.5,213.5 544.4,212.6 544.7,212.3 544.7,212.3 545.3,211.1 545.9,209.9 546.4,208.8 546.8,207.6 547.2,206.6 547.7,205.5 548.1,204.3 548.4,203.0 548.7,201.8 549.1,200.7 549.5,200.0 549.9,200.2 550.3,200.4 550.9,201.2 551.3,202.3 551.6,203.6 551.9,204.7"/>
<polyline class="c" stroke="#00f" points="79.0,51.0 80.0,50.4 81.1,50.0 82.1,49.7 82.7,49.7 83.7,49.5 84.9,50.2 85.8,50.2 87.2,50.4 88.2,50.4 89.2,50.2 90.2,50.3 90.5,50.7 91.5,50.6 92.4,50.0 93.3,49.5 94.1,48.3 94.9,47.7 96.2,47.3 97.1,46.9 97.6,46.8 98.5,46.3 99.8,45.8 100.7,45.2 101.8,44.7 102.7,44.3 103.3,43.8 104.3,43.6 105.6,43.1 106.5,43.1 107.5,44.2 108.5,44.2 109.0,43.2 110.0,43.2 111.5,44.3 112.5,44.4 113.3,43.4 114.4,43.6 115.5,44.9 116.4,45.0 117.1,44.2 117.8,43.6 118.8,43.3 119.4,42.2 119.8,39.9 120.4,39.2 120.8,39.5 121.5,39.9 122.6,40.5 123.3,41.4 124.3,42.9 125.1,43.3 125.6,43.2 126.7,42.9 127.7,42.3 128.7,42.0 129.8,42.0 130.7,41.9 131.9,42.4 132.5,43.0 133.1,42.7 133.7,43.8 133.9,45.5 134.3,46.4 134.9,47.5 135.2,48.4 135.5,49.3 135.8,50.3 135.6,50.7 135.9,51.7 135.9,53.5 136.2,54.5 136.9,54.6 137.1,55.6 137.3,57.4 137.5,58.4 137.6,58.8 137.8,59.8 137.9,60.3 138.1,61.3 138.5,63.2 138.7,64.2 138.9,64.1 139.1,65.1 139.2,67.1 139.4,68.1 139.6,68.8 139.8,69.8 140.1,71.1 140.3,72.1 140.8,73.0 140.9,74.0 140.9,74.4 141.0,75.4 140.9,76.0 141.1,77.0 141.3,78.2 141.4,79.2 141.7,79.8 141.9,80.8 141.8,82.7 142.0,83.7 142.1,83.9 142.3,84.8 142.7,86.0 142.9,86.9 142.7,88.0 142.9,89.0 143.4,90.2 143.6,91.2 143.7,92.6 143.9,93.6 144.3,94.2 144.5,95.2 144.7,96.2 144.9,97.2 145.1,97.6 145.3,98.6 145.4,99.9 145.6,100.9 145.5,101.7 145.7,102.7 146.2,104.4 146.3,105.4 146.2,105.4 146.4,106.4 146.8,108.2 146.9,109.2 146.9,110.3 147.1,111.3 147.4,112.0 147.5,113.0 147.4,113.3 147.6,114.3 148.0,115.6 148.2,116.5 149.0,117.5 149.3,118.5 148.9,119.5 149.1,120.4 149.8,121.4 150.0,122.4 150.2,124.3 150.5,125.3 150.8,126.0 151.1,127.0 151.1,128.1 151.4,129.1 151.7,129.8 151.9,130.7 151.7,131.2 152.0,132.2 152.2,134.0 152.4,135.0 152.8,135.3 153.0,136.3 153.2,136.8 153.4,137.8 153.6,139.5 153.8,140.5 154.0,140.8 154.3,141.8 154.8,143.6 155.1,144.5 155.0,145.4 155.2,146.4 156.0,146.7 156.3,147.7 156.3,148.9 156.5,149.9 156.6,151.2 156.8,152.2 157.1,153.1 157.4,154.1 157.2,154.9 157.4,155.8 158.2,156.4 158.4,157.4 158.5,158.5 158.7,159.5 158.8,161.0 159.0,162.0 159.0,162.6 159.2,163.6 159.7,165.0 159.9,165.9 160.1,166.9 160.3,167.8 160.5,168.3 160.7,169.3 161.2,169.9 161.5,170.8 161.5,172.6 161.9,173.6 162.0,174.0 162.3,175.0 162.9,176.2 163.3,177.1 163.4,177.4 163.8,178.3 164.2,179.3 164.6,180.2 165.5,181.5 165.9,182.5 166.3,183.8 166.8,184.8 167.4,185.1 167.8,186.0 168.2,187.9 168.7,188.7 169.0,189.6 169.6,190.2 169.9,190.4 170.7,190.9 172.0,191.4 173.1,191.8 174.5,191.4 175.5,191.6 176.3,191.4 177.1,191.3 177.6,191.1 178.4,190.4 179.1,189.2 179.8,188.3 180.2,187.8 180.7,186.9 181.2,186.6 181.6,185.7 182.0,184.1 182.3,183.1 183.4,183.0 183.8,182.1 184.1,180.6 184.5,179.7 184.5,178.4 184.9,177.5 185.6,177.3 186.1,176.4 186.3,175.2 186.7,174.3 187.4,173.3 188.0,172.6 189.2,172.2 190.0,171.7 190.9,171.8 191.8,171.3 192.4,170.4 193.1,169.7 193.6,168.4 194.3,167.6 195.2,167.7 195.8,166.9 196.7,165.0 197.3,164.2 197.5,163.7 198.1,162.9 198.4,162.1 198.9,161.3 199.5,161.3 200.2,160.6 200.9,158.5 201.7,157.8 203.2,158.0 203.8,157.3 204.1,156.4 204.6,155.5 205.4,154.2 205.9,153.3 205.8,153.1 206.3,152.2 206.9,151.6 207.4,150.7 208.3,149.8 208.8,148.9 209.5,147.1 210.0,146.2 210.0,146.4 210.5,145.5 210.8,144.0 211.3,143.2 212.5,143.0 213.0,142.1 213.0,140.9 213.5,140.0 214.3,138.5 214.8,137.6 214.8,137.6 215.3,136.7 216.2,135.6 216.7,134.7 217.3,133.7 217.8,132.9 218.3,132.3 218.8,131.5 219.1,130.4 219.7,129.6 220.6,128.2 221.2,127.4 221.3,127.8 222.0,127.1 222.7,125.4 223.3,124.6 224.1,123.8 224.7,123.0 225.7,121.9 226.3,121.2 226.4,121.3 227.0,120.6 228.3,120.1 228.9,119.3 229.5,117.9 230.2,117.2 231.0,117.0 231.7,116.2 231.9,114.8 232.6,114.1 233.2,113.5 233.9,112.8 234.7,112.0 235.4,111.3 236.7,110.7 237.4,110.1 238.3,109.8 239.1,109.2 239.7,108.3 240.5,107.7 241.2,106.8 242.0,106.2 242.7,106.4 243.5,105.8 244.8,104.7 245.7,104.3 246.7,104.1 247.6,103.9 248.0,103.5 249.0,103.4 250.1,103.2 251.1,103.2 252.5,104.6 253.4,105.3 254.1,105.2 254.5,104.6 254.4,104.2 254.7,103.0 255.1,100.7 255.7,99.9 256.5,100.3 257.3,99.7 258.2,97.9 259.0,97.3 259.5,96.9 260.2,96.3 261.7,95.5 262.5,94.9 263.0,95.0 263.8,94.4 264.8,93.6 265.6,92.9 265.9,92.3 266.7,91.6 268.1,91.9 268.9,91.3 269.6,90.2 270.4,89.6 270.9,89.6 271.7,89.1 273.1,88.5 274.0,88.1 274.7,86.8 275.6,86.4 276.6,86.4 277.5,85.9 277.7,84.9 278.6,84.5 279.6,84.3 280.5,83.9 282.0,83.9 282.9,83.5 283.4,83.0 284.4,82.6 285.5,81.5 286.4,81.1 287.0,80.8 288.0,80.4 289.6,81.0 290.5,80.7 291.1,80.3 292.0,79.9 293.2,79.6 294.2,79.3 294.5,78.4 295.5,78.1 296.8,78.6 297.7,78.3 298.3,77.8 299.3,77.5 301.0,76.6 301.9,76.3 302.5,76.1 303.5,75.8 304.1,76.1 305.1,75.8 306.0,76.1 307.0,75.8 308.3,74.9 309.3,74.6 309.9,73.9 310.8,73.7 311.9,74.0 312.8,73.7 314.0,72.7 314.9,72.4 316.0,72.7 316.9,72.4 317.9,71.8 318.9,71.5 319.9,70.7 320.9,70.4 321.6,70.8 322.6,70.6 323.8,70.3 324.7,70.1 325.3,70.4 326.3,70.2 327.4,69.7 328.3,69.4 329.7,68.6 330.7,68.3 331.1,68.4 332.0,67.9 333.0,67.0 334.0,66.6 334.9,66.9 335.9,66.8 337.1,66.8 338.1,67.0 338.7,67.2 339.7,67.3 340.7,66.7 341.5,66.2 342.7,66.3 343.6,66.3 344.3,66.1 345.3,66.1 346.7,66.3 347.7,66.3 348.8,65.4 349.9,65.4 350.7,66.3 351.7,66.3 352.9,66.6 353.9,66.6 354.6,66.1 355.6,66.1 356.4,65.5 357.4,65.5 358.7,66.6 359.7,66.6 360.6,66.1 361.6,66.1 362.8,65.7 363.8,65.7 364.4,66.2 365.4,66.2 366.5,66.5 367.5,66.5 369.0,65.3 369.9,65.0 370.4,65.4 371.4,65.1 372.5,64.9 373.5,64.6 374.9,64.8 375.9,64.6 376.3,63.2 377.3,63.1 378.2,63.5 379.1,63.3 380.6,63.3 381.5,63.0 382.3,62.6 383.3,62.2 384.3,62.2 385.2,61.9 385.7,61.4 386.7,61.2 388.0,60.9 389.0,60.7 389.6,60.5 390.6,60.2 391.7,59.3 392.7,59.1 394.0,59.8 395.0,59.5 395.4,58.7 396.4,58.4 397.5,57.4 398.5,57.1 400.0,57.9 400.9,57.5 401.8,57.0 402.8,56.6 403.3,56.2 404.2,55.8 405.4,54.6 406.3,54.2 407.1,54.7 408.0,54.3 408.8,53.4 409.7,53.0 411.0,53.3 411.9,52.9 412.2,51.5 413.1,51.1 414.6,51.0 415.5,50.6 415.8,49.8 416.7,49.4 418.3,48.9 419.2,48.5 420.0,48.6 420.9,48.2 421.6,48.4 422.6,48.0 423.7,47.2 424.6,46.8 425.4,46.3 426.3,45.9 427.5,46.5 428.4,46.1 428.8,45.5 429.7,45.1 431.0,45.1 432.0,44.7 433.2,43.4 434.1,43.1 435.1,42.7 436.1,42.4 436.5,43.3 437.5,43.1 438.5,41.7 439.5,41.5 441.0,42.4 442.0,42.3 442.5,42.6 443.5,42.8 444.3,42.9 445.2,43.3 446.6,43.6 447.4,44.2 447.9,44.5 448.6,45.1 449.5,45.8 450.2,46.7 450.6,47.2 451.1,48.1 451.6,49.5 452.0,50.3 452.3,51.4 452.6,52.3 452.8,52.9 453.1,53.8 453.8,55.8 454.1,56.8 454.1,57.9 454.3,58.8 454.6,58.9 454.8,59.9 455.1,61.3 455.4,62.3 455.0,63.6 455.2,64.6 456.0,65.2 456.2,66.1 456.3,66.8 456.5,67.8 456.4,69.5 456.6,70.4 456.8,71.0 457.0,72.0 456.8,73.1 457.0,74.1 457.7,75.2 457.8,76.2 457.5,76.6 457.7,77.5 458.2,79.1 458.3,80.1 458.1,80.5 458.3,81.5 458.4,83.0 458.5,84.0 459.1,84.4 459.3,85.4 459.4,87.2 459.5,88.1 459.9,88.5 460.1,89.5 460.4,91.4 460.6,92.5 461.1,92.7 461.4,93.9 460.9,95.9 461.2,96.9 462.0,97.9 462.3,98.4 462.6,98.5 462.9,98.1 463.3,96.9 463.7,95.9 464.0,94.8 464.4,93.5 464.7,91.9 465.0,90.8 465.5,90.7 465.7,89.7 465.6,88.6 465.8,87.6 466.0,86.3 466.2,85.3 466.5,84.3 466.6,83.3 466.3,82.9 466.4,81.9 466.9,80.4 467.0,79.4 466.9,77.8 467.1,76.8 467.4,75.8 467.6,74.9 467.7,74.8 468.0,73.8 468.4,72.5 468.7,71.6 469.0,70.6 469.4,69.7 470.0,68.5 470.3,67.6 470.7,66.1 471.1,65.2 471.8,65.4 472.2,64.5 472.4,63.1 472.9,62.3 473.9,61.6 474.5,60.7 474.8,59.9 475.4,59.2 476.5,58.0 477.2,57.3 477.8,57.9 478.5,57.3 479.4,56.6 480.2,56.0 480.8,54.0 481.7,53.4 483.2,53.0 484.1,52.6 484.9,52.9 485.8,52.8 486.3,53.7 487.3,53.8 488.6,53.2 489.6,53.3 491.0,54.0 492.0,54.2 492.2,53.4 493.2,53.5 494.5,53.8 495.5,53.9 496.9,54.4 497.9,54.4 498.3,54.3 499.2,54.4 500.7,54.2 501.6,54.9 502.4,55.7 503.1,55.9 504.0,55.9 504.6,55.4 505.0,54.3 505.6,53.3 506.5,52.0 507.1,50.9 507.2,50.0 507.8,49.2 508.6,49.1 509.2,48.2 509.4,46.6 510.0,45.8 511.1,45.0 511.8,44.3 512.4,43.8 513.2,43.4 514.5,43.9 515.5,43.4 516.4,43.0 517.4,42.7 517.7,41.9 518.7,41.9 519.6,41.5 520.6,41.6 521.7,41.9 522.7,42.0 523.7,42.7 524.7,42.9 526.1,42.9 527.0,43.4 527.7,44.3 528.6,44.9 529.4,45.4 530.1,46.0 530.8,46.6 531.5,47.3 531.8,48.2 532.5,49.0 533.4,49.2 534.1,50.0 535.2,50.3 535.8,51.1 536.2,52.8 536.7,53.6 537.1,54.8 537.6,55.6 537.8,56.0 538.3,56.9 539.5,57.1 540.1,58.0 540.2,59.7 540.7,60.6 541.5,61.4 542.0,62.2 542.2,63.1 542.8,63.9 543.4,64.4 544.0,65.2 544.6,66.4 545.3,66.9 545.9,67.2 546.5,68.0 547.0,69.0 547.6,69.8 548.5,70.8 549.1,71.6 549.5,72.4 550.2,73.2 551.0,73.8 551.6,74.6 552.3,75.2 552.9,76.0 553.6,76.8 554.2,77.6 554.7,78.2 555.3,79.0 555.9,79.6 556.5,80.4 557.4,81.6 558.0,82.4 558.5,83.0 559.1,83.8 559.6,84.4 560.2,85.2 561.2,85.9 561.8,86.7 562.0,87.4 562.6,88.2 563.6,89.0 564.1,89.9 564.4,91.0 564.9,91.9 565.4,92.5 565.9,93.4 566.6,94.3 567.0,95.3 567.1,96.5 567.5,97.5 567.9,97.9 568.3,98.8 568.4,100.4 568.7,101.4 569.2,101.9 569.5,102.9 569.6,104.2 569.9,105.1 570.0,106.1 570.2,107.1 570.3,108.0 570.5,108.9 570.8,109.5 571.0,110.5 571.2,111.9 571.4,112.9 571.5,113.7 571.7,114.7 572.0,115.6 572.1,116.5 572.2,117.7 572.3,118.7 572.6,119.8 572.8,120.7 572.9,121.5 573.1,122.5 573.3,123.5 573.4,124.5 573.6,125.4 573.8,126.4 573.9,127.3 574.1,128.3 574.1,129.6 574.2,130.6 574.4,131.8 574.6,132.8 574.9,133.2 575.1,134.2 575.1,135.5 575.2,136.5 575.5,137.4 575.6,138.4 575.9,139.4 576.0,140.4 576.2,141.3 576.4,142.3 576.6,143.3 576.8,144.3 576.9,145.2 577.1,146.2 577.4,147.3 577.6,148.3 577.8,149.2 578.0,150.2 578.2,151.2 578.4,152.2 578.6,153.1 578.8,154.0 579.0,155.0 579.2,156.0 579.4,157.0 579.6,158.0 579.9,159.0 580.1,160.0 580.3,160.9 580.5,161.8 580.8,162.9 581.0,163.9 581.3,164.9 581.5,165.8 581.7,166.8 581.9,167.7 582.1,168.7 582.3,169.6 582.6,170.6 582.9,171.6 583.0,172.6 583.3,173.6 583.5,174.6 583.7,175.6 583.9,176.5 584.1,177.4 584.3,178.5 584.5,179.5 584.7,180.5 584.9,181.5 585.1,182.4 585.3,183.4 585.5,184.4 585.7,185.4 585.8,186.4 586.0,187.4 586.1,188.3 586.3,189.2 586.5,190.2 586.7,191.2 586.9,192.3 587.0,193.3 587.2,194.2 587.4,195.2 587.5,196.1 587.7,197.1 587.9,198.2 588.1,199.2 588.2,200.1 588.3,201.1 588.5,202.1 588.6,203.0 588.8,204.1 588.9,205.1 589.1,206.1 589.2,207.0 589.4,208.1 589.5,209.1 589.6,210.0 589.8,211.0 589.9,211.9 590.0,212.9 590.2,214.0 590.4,215.0 590.5,215.9 590.7,216.9 590.8,218.0 591.0,219.0 591.2,219.9 591.3,220.9 591.5,221.9 591.7,222.9 591.9,223.8 592.1,224.8 592.2,225.8 592.4,226.8 592.7,227.8 592.9,228.8 593.0,229.8 593.2,230.8 593.4,231.8 593.6,232.7 593.9,233.7 594.2,234.7 594.4,235.6 594.6,236.6 594.8,237.6 595.1,238.6 595.4,239.4 595.7,240.3 596.0,241.3 596.3,242.2 596.6,243.2 596.9,244.2 597.3,245.2 597.7,246.1 598.0,247.0 598.4,247.9 598.7,248.8 599.1,249.7 599.5,250.7 599.9,251.6 600.3,252.5 600.7,253.4 601.1,254.4 601.5,255.2 602.0,256.1 602.5,257.0 602.9,257.9 603.4,258.8 603.9,259.7 604.3,260.6 604.7,261.6 605.2,262.5 605.6,263.3 606.0,264.2 606.4,265.2 606.8,266.1 607.2,267.0 607.6,267.9 607.9,268.8 608.3,269.8 608.7,270.7 609.0,271.6 609.4,272.6 609.8,273.5 610.1,274.5 610.5,275.4 610.9,276.3 611.3,277.2 611.7,278.1 612.1,279.0 612.4,279.9 612.8,280.8 613.2,281.8 613.5,282.7 613.9,283.7 614.3,284.6 614.5,285.6 614.8,286.5 615.1,287.5 615.4,288.4 615.6,289.5 615.9,290.5 616.1,291.5 616.3,292.5 616.5,293.4 616.7,294.4 617.0,295.4 617.2,296.4 617.4,297.4 617.6,298.4 617.8,299.4 618.1,300.4 618.3,301.3 618.7,302.2 619.0,303.1 619.5,303.9 619.9,304.8 620.4,305.6 621.0,306.3 621.7,307.1 622.4,307.9 623.0,308.7 623.7,309.5 624.3,310.2 625.1,311.1 625.7,311.9 626.2,312.6 626.9,313.4 627.6,314.2 628.2,314.9 628.9,315.7 629.6,316.4 630.2,317.1 630.9,317.8 631.6,318.6 632.3,319.3 633.0,320.0 633.7,320.7 634.5,321.4 635.2,322.1 636.0,322.7 636.7,323.4 637.4,324.0 638.2,324.6 639.1,325.3 639.9,325.9 640.6,326.5 641.5,327.0 642.3,327.6 643.2,328.2 644.1,328.7 645.0,329.3 645.9,329.8 646.8,330.4 647.8,331.1 648.7,331.6 649.7,331.9 650.5,332.3 651.3,332.5 652.0,332.6 652.7,332.4 653.4,331.8 654.0,330.9 654.6,329.9 655.1,328.8 655.6,327.8 656.0,326.8 656.4,325.9 656.8,325.0 657.1,324.1 657.4,323.1 657.7,322.1 657.9,321.2 658.2,320.2 658.4,319.2 658.7,318.2 658.9,317.2 659.2,316.2 659.5,315.3 659.8,314.3 660.1,313.4 660.4,312.4 660.7,311.6 661.0,310.6 661.2,309.6 661.5,308.6 661.9,307.6 662.2,306.7 662.5,305.8 662.6,305.4"/>
<polyline class="c k" stroke="#00f" points="79.0,51.0 80.0,50.4 81.1,50.0 82.1,49.7 82.7,49.7 83.7,49.5 84.9,50.2 85.8,50.2 87.2,50.4 88.2,50.4 89.2,50.2 90.2,50.3 90.5,50.7 91.5,50.6 92.4,50.0 93.3,49.5 94.1,48.3 94.9,47.7 96.2,47.3 97.1,46.9 97.6,46.8 98.5,46.3 99.8,45.8 100.7,45.2 101.8,44.7 102.7,44.3 103.3,43.8 104.3,43.6 105.6,43.1 106.5,43.1 107.5,44.2 108.5,44.2 109.0,43.2 110.0,43.2 111.5,44.3 112.5,44.4 113.3,43.4 114.4,43.6 115.5,44.9 116.4,45.0 117.1,44.2 117.8,43.6 118.8,43.3 119.4,42.2 119.8,39.9 120.4,39.2 120.8,39.5 121.5,39.9 122.6,40.5 123.3,41.4 124.3,42.9 125.1,43.3 125.6,43.2 126.7,42.9 127.7,42.3 128.7,42.0 129.8,42.0 130.7,41.9 131.9,42.4 132.5,43.0 133.1,42.7 133.7,43.8 133.9,45.5 134.3,46.4 134.9,47.5 135.2,48.4 135.5,49.3 135.8,50.3 135.6,50.7 135.9,51.7 135.9,53.5 136.2,54.5 136.9,54.6 137.1,55.6 137.3,57.4 137.5,58.4 137.6,58.8 137.8,59.8 137.9,60.3 138.1,61.3 138.5,63.2 138.7,64.2 138.9,64.1 139.1,65.1 139.2,67.1 139.4,68.1 139.6,68.8 139.8,69.8 140.1,71.1 140.3,72.1 140.8,73.0 140.9,74.0 140.9,74.4 141.0,75.4 140.9,76.0 141.1,77.0 141.3,78.2 141.4,79.2 141.7,79.8 141.9,80.8 141.8,82.7 142.0,83.7 142.1,83.9 142.3,84.8 142.7,86.0 142.9,86.9 142.7,88.0 142.9,89.0 143.4,90.2 143.6,91.2 143.7,92.6 143.9,93.6 144.3,94.2 144.5,95.2 144.7,96.2 144.9,97.2 145.1,97.6 145.3,98.6 145.4,99.9 145.6,100.9 145.5,101.7 145.7,102.7 146.2,104.4 146.3,105.4 146.2,105.4 146.4,106.4 146.8,108.2 146.9,109.2 146.9,110.3 147.1,111.3 147.4,112.0 147.5,113.0 147.4,113.3 147.6,114.3 148.0,115.6 148.2,116.5 149.0,117.5 149.3,118.5 148.9,119.5 149.1,120.4 149.8,121.4 150.0,122.4 150.2,124.3 150.5,125.3 150.8,126.0 151.1,127.0 151.1,128.1 151.4,129.1 151.7,129.8 151.9,130.7 151.7,131.2 152.0,132.2 152.2,134.0 152.4,135.0 152.8,135.3 153.0,136.3 153.2,136.8 153.4,137.8 153.6,139.5 153.8,140.5 154.0,140.8 154.3,141.8 154.8,143.6 155.1,144.5 155.0,145.4 155.2,146.4 156.0,146.7 156.3,147.7 156.3,148.9 156.5,149.9 156.6,151.2 156.8,152.2 157.1,153.1 157.4,154.1 157.2,154.9 157.4,155.8 158.2,156.4 158.4,157.4 158.5,158.5 158.7,159.5 158.8,161.0 159.0,162.0 159.0,162.6 159.2,163.6 159.7,165.0 159.9,165.9 160.1,166.9 160.3,167.8 160.5,168.3 160.7,169.3 161.2,169.9 161.5,170.8 161.5,172.6 161.9,173.6 162.0,174.0 162.3,175.0 162.9,176.2 163.3,177.1 163.4,177.4 163.8,178.3 164.2,179.3 164.6,180.2 165.5,181.5 165.9,182.5 166.3,183.8 166.8,184.8 167.4,185.1 167.8,186.0 168.2,187.9 168.7,188.7 169.0,189.6 169.6,190.2 169.9,190.4 170.7,190.9 172.0,191.4 173.1,191.8 174.5,191.4 175.5,191.6 176.3,191.4 177.1,191.3 177.6,191.1 178.4,190.4 179.1,189.2 179.8,188.3 180.2,187.8 180.7,186.9 181.2,186.6 181.6,185.7 182.0,184.1 182.3,183.1 183.4,183.0 183.8,182.1 184.1,180.6 184.5,179.7 184.5,178.4 184.9,177.5 185.6,177.3 186.1,176.4 186.3,175.2 186.7,174.3 187.4,173.3 188.0,172.6 189.2,172.2 190.0,171.7 190.9,171.8 191.8,171.3 192.4,170.4 193.1,169.7 193.6,168.4 194.3,167.6 195.2,167.7 195.8,166.9 196.7,165.0 197.3,164.2 197.5,163.7 198.1,162.9 198.4,162.1 198.9,161.3 199.5,161.3 200.2,160.6 200.9,158.5 201.7,157.8 203.2,158.0 203.8,157.3 204.1,156.4 204.6,155.5 205.4,154.2 205.9,153.3 205.8,153.1 206.3,152.2 206.9,151.6 207.4,150.7 208.3,149.8 208.8,148.9 209.5,147.1 210.0,146.2 210.0,146.4 210.5,145.5 210.8,144.0 211.3,143.2 212.5,143.0 213.0,142.1 213.0,140.9 213.5,140.0 214.3,138.5 214.8,137.6 214.8,137.6 215.3,136.7 216.2,135.6 216.7,134.7 217.3,133.7 217.8,132.9 218.3,132.3 218.8,131.5 219.1,130.4 219.7,129.6 220.6,128.2 221.2,127.4 221.3,127.8 222.0,127.1 222.7,125.4 223.3,124.6 224.1,123.8 224.7,123.0 225.7,121.9 226.3,121.2 226.4,121.3 227.0,120.6 228.3,120.1 228.9,119.3 229.5,117.9 230.2,117.2 231.0,117.0 231.7,116.2 231.9,114.8 232.6,114.1 233.2,113.5 233.9,112.8 234.7,112.0 235.4,111.3 236.7,110.7 237.4,110.1 238.3,109.8 239.1,109.2 239.7,108.3 240.5,107.7 241.2,106.8 242.0,106.2 242.7,106.4 243.5,105.8 244.8,104.7 245.7,104.3 246.7,104.1 247.6,103.9 248.0,103.5 249.0,103.4 250.1,103.2 251.1,103.2 252.5,104.6 253.4,105.3 254.1,105.2 254.5,104.6 254.4,104.2 254.7,103.0 255.1,100.7 255.7,99.9 256.5,100.3 257.3,99.7 258.2,97.9 259.0,97.3 259.5,96.9 260.2,96.3 261.7,95.5 262.5,94.9 263.0,95.0 263.8,94.4 264.8,93.6 265.6,92.9 265.9,92.3 266.7,91.6 268.1,91.9 268.9,91.3 269.6,90.2 270.4,89.6 270.9,89.6 271.7,89.1 273.1,88.5 274.0,88.1 274.7,86.8 275.6,86.4 276.6,86.4 277.5,85.9 277.7,84.9 278.6,84.5 279.6,84.3 280.5,83.9 282.0,83.9 282.9,83.5 283.4,83.0 284.4,82.6 285.5,81.5 286.4,81.1 287.0,80.8 288.0,80.4 289.6,81.0 290.5,80.7 291.1,80.3 292.0,79.9 293.2,79.6 294.2,79.3 294.5,78.4 295.5,78.1 296.8,78.6 297.7,78.3 298.3,77.8 299.3,77.5 301.0,76.6 301.9,76.3 302.5,76.1 303.5,75.8 304.1,76.1 305.1,75.8 306.0,76.1 307.0,75.8 308.3,74.9 309.3,74.6 309.9,73.9 310.8,73.7 311.9,74.0 312.8,73.7 314.0,72.7 314.9,72.4 316.0,72.7 316.9,72.4 317.9,71.8 318.9,71.5 319.9,70.7 320.9,70.4 321.6,70.8 322.6,70.6 323.8,70.3 324.7,70.1 325.3,70.4 326.3,70.2 327.4,69.7 328.3,69.4 329.7,68.6 330.7,68.3 331.1,68.4 332.0,67.9 333.0,67.0 334.0,66.6 334.9,66.9 335.9,66.8 337.1,66.8 338.1,67.0 338.7,67.2 339.7,67.3 340.7,66.7 341.5,66.2 342.7,66.3 343.6,66.3 344.3,66.1 345.3,66.1 346.7,66.3 347.7,66.3 348.8,65.4 349.9,65.4 350.7,66.3 351.7,66.3 352.9,66.6 353.9,66.6 354.6,66.1 355.6,66.1 356.4,65.5 357.4,65.5 358.7,66.6 359.7,66.6 360.6,66.1 361.6,66.1 362.8,65.7 363.8,65.7 364.4,66.2 365.4,66.2 366.5,66.5 367.5,66.5 369.0,65.3 369.9,65.0 370.4,65.4 371.4,65.1 372.5,64.9 373.5,64.6 374.9,64.8 375.9,64.6 376.3,63.2 377.3,63.1 378.2,63.5 379.1,63.3 380.6,63.3 381.5,63.0 382.3,62.6 383.3,62.2 384.3,62.2 385.2,61.9 385.7,61.4 386.7,61.2 388.0,60.9 389.0,60.7 389.6,60.5 390.6,60.2 391.7,59.3 392.7,59.1 394.0,59.8 395.0,59.5 395.4,58.7 396.4,58.4 397.5,57.4 398.5,57.1 400.0,57.9 400.9,57.5 401.8,57.0 402.8,56.6 403.3,56.2 404.2,55.8 405.4,54.6 406.3,54.2 407.1,54.7 408.0,54.3 408.8,53.4 409.7,53.0 411.0,53.3 411.9,52.9 412.2,51.5 413.1,51.1 414.6,51.0 415.5,50.6 415.8,49.8 416.7,49.4 418.3,48.9 419.2,48.5 420.0,48.6 420.9,48.2 421.6,48.4 422.6,48.0 423.7,47.2 424.6,46.8 425.4,46.3 426.3,45.9 427.5,46.5 428.4,46.1 428.8,45.5 429.7,45.1 431.0,45.1 432.0,44.7 433.2,43.4 434.1,43.1 435.1,42.7 436.1,42.4 436.5,43.3 437.5,43.1 438.5,41.7 439.5,41.5 441.0,42.4 442.0,42.3 442.5,42.6 443.5,42.8 444.3,42.9 445.2,43.3 446.6,43.6 447.4,44.2 447.9,44.5 448.6,45.1 449.5,45.8 450.2,46.7 450.6,47.2 451.1,48.1 451.6,49.5 452.0,50.3 452.3,51.4 452.6,52.3 452.8,52.9 453.1,53.8 453.8,55.8 454.1,56.8 454.1,57.9 454.3,58.8 454.6,58.9 454.8,59.9 455.1,61.3 455.4,62.3 455.0,63.6 455.2,64.6 456.0,65.2 456.2,66.1 456.3,66.8 456.5,67.8 456.4,69.5 456.6,70.4 456.8,71.0 457.0,72.0 456.8,73.1 457.0,74.1 457.7,75.2 457.8,76.2 457.5,76.6 457.7,77.5 458.2,79.1 458.3,80.1 458.1,80.5 458.3,81.5 458.4,83.0 458.5,84.0 459.1,84.4 459.3,85.4 459.4,87.2 459.5,88.1 459.9,88.5 460.1,89.5 460.4,91.4 460.6,92.5 461.1,92.7 461.4,93.9 460.9,95.9 461.2,96.9 462.0,97.9 462.3,98.4 462.6,98.5 462.9,98.1 463.3,96.9 463.7,95.9 464.0,94.8 464.4,93.5 464.7,91.9 465.0,90.8 465.5,90.7 465.7,89.7 465.6,88.6 465.8,87.6 466.0,86.3 466.2,85.3 466.5,84.3 466.6,83.3 466.3,82.9 466.4,81.9 466.9,80.4 467.0,79.4 466.9,77.8 467.1,76.8 467.4,75.8 467.6,74.9 467.7,74.8 468.0,73.8 468.4,72.5 468.7,71.6 469.0,70.6 469.4,69.7 470.0,68.5 470.3,67.6 470.7,66.1 471.1,65.2 471.8,65.4 472.2,64.5 472.4,63.1 472.9,62.3 473.9,61.6 474.5,60.7 474.8,59.9 475.4,59.2 476.5,58.0 477.2,57.3 477.8,57.9 478.5,57.3 479.4,56.6 480.2,56.0 480.8,54.0 481.7,53.4 483.2,53.0 484.1,52.6 484.9,52.9 485.8,52.8 486.3,53.7 487.3,53.8 488.6,53.2 489.6,53.3 491.0,54.0 492.0,54.2 492.2,53.4 493.2,53.5 494.5,53.8 495.5,53.9 496.9,54.4 497.9,54.4 498.3,54.3 499.2,54.4 500.7,54.2 501.6,54.9 502.4,55.7 503.1,55.9 504.0,55.9 504.6,55.4 505.0,54.3 505.6,53.3 506.5,52.0 507.1,50.9 507.2,50.0 507.8,49.2 508.6,49.1 509.2,48.2 509.4,46.6 510.0,45.8 511.1,45.0 511.8,44.3 512.4,43.8 513.2,43.4 514.5,43.9 515.5,43.4 516.4,43.0 517.4,42.7 517.7,41.9 518.7,41.9 519.6,41.5 520.6,41.6 521.7,41.9 522.7,42.0 523.7,42.7 524.7,42.9 526.1,42.9 527.0,43.4 527.7,44.3 528.6,44.9 529.4,45.4 530.1,46.0 530.8,46.6 531.5,47.3 531.8,48.2 532.5,49.0 533.4,49.2 534.1,50.0 535.2,50.3 535.8,51.1 536.2,52.8 536.7,53.6 537.1,54.8 537.6,55.6 537.8,56.0 538.3,56.9 539.5,57.1 540.1,58.0 540.2,59.7 540.7,60.6 541.5,61.4 542.0,62.2 542.2,63.1 542.8,63.9 543.4,64.4 544.0,65.2 544.6,66.4 545.3,66.9 545.9,67.2 546.5,68.0 547.0,69.0 547.6,69.8 548.5,70.8 549.1,71.6 549.5,72.4 550.2,73.2 551.0,73.8 551.6,74.6"/>
<rect x="78.7" y="0.8" width="600.0" height="443.3" fill="none" stroke="#000" stroke-width="1.65"/>
<line x1="119.1" y1="444.1" x2="119.1" y2="448.90000000000003" stroke="#000" stroke-width="1.65"/>
<line x1="159.6" y1="444.1" x2="159.6" y2="453.40000000000003" stroke="#000" stroke-width="1.65"/>
<text class="tk" x="159.9" y="472.9" text-anchor="middle">3500</text>
<line x1="200.1" y1="444.1" x2="200.1" y2="448.90000000000003" stroke="#000" stroke-width="1.65"/>
<line x1="240.6" y1="444.1" x2="240.6" y2="453.40000000000003" stroke="#000" stroke-width="1.65"/>
<text class="tk" x="240.9" y="472.9" text-anchor="middle">3000</text>
<line x1="281.2" y1="444.1" x2="281.2" y2="448.90000000000003" stroke="#000" stroke-width="1.65"/>
<line x1="321.7" y1="444.1" x2="321.7" y2="453.40000000000003" stroke="#000" stroke-width="1.65"/>
<text class="tk" x="322.0" y="472.9" text-anchor="middle">2500</text>
<line x1="362.2" y1="444.1" x2="362.2" y2="448.90000000000003" stroke="#000" stroke-width="1.65"/>
<line x1="402.8" y1="444.1" x2="402.8" y2="453.40000000000003" stroke="#000" stroke-width="1.65"/>
<text class="tk" x="403.1" y="472.9" text-anchor="middle">2000</text>
<line x1="443.3" y1="444.1" x2="443.3" y2="448.90000000000003" stroke="#000" stroke-width="1.65"/>
<line x1="483.8" y1="444.1" x2="483.8" y2="453.40000000000003" stroke="#000" stroke-width="1.65"/>
<text class="tk" x="484.1" y="472.9" text-anchor="middle">1500</text>
<line x1="524.3" y1="444.1" x2="524.3" y2="448.90000000000003" stroke="#000" stroke-width="1.65"/>
<line x1="564.9" y1="444.1" x2="564.9" y2="453.40000000000003" stroke="#000" stroke-width="1.65"/>
<text class="tk" x="565.1" y="472.9" text-anchor="middle">1000</text>
<line x1="605.4" y1="444.1" x2="605.4" y2="448.90000000000003" stroke="#000" stroke-width="1.65"/>
<line x1="645.9" y1="444.1" x2="645.9" y2="453.40000000000003" stroke="#000" stroke-width="1.65"/>
<text class="tk" x="646.2" y="472.9" text-anchor="middle">500</text>
<line x1="78.7" y1="425.0" x2="69.9" y2="425.0" stroke="#000" stroke-width="1.65"/>
<text class="tk" x="63.0" y="430.7" text-anchor="end">0</text>
<line x1="78.7" y1="386.4" x2="74.2" y2="386.4" stroke="#000" stroke-width="1.65"/>
<line x1="78.7" y1="347.9" x2="69.9" y2="347.9" stroke="#000" stroke-width="1.65"/>
<text class="tk" x="63.0" y="353.6" text-anchor="end">20</text>
<line x1="78.7" y1="309.4" x2="74.2" y2="309.4" stroke="#000" stroke-width="1.65"/>
<line x1="78.7" y1="270.8" x2="69.9" y2="270.8" stroke="#000" stroke-width="1.65"/>
<text class="tk" x="63.0" y="276.5" text-anchor="end">40</text>
<line x1="78.7" y1="232.2" x2="74.2" y2="232.2" stroke="#000" stroke-width="1.65"/>
<line x1="78.7" y1="193.7" x2="69.9" y2="193.7" stroke="#000" stroke-width="1.65"/>
<text class="tk" x="63.0" y="199.4" text-anchor="end">60</text>
<line x1="78.7" y1="155.1" x2="74.2" y2="155.1" stroke="#000" stroke-width="1.65"/>
<line x1="78.7" y1="116.6" x2="69.9" y2="116.6" stroke="#000" stroke-width="1.65"/>
<text class="tk" x="63.0" y="122.3" text-anchor="end">80</text>
<line x1="78.7" y1="78.1" x2="74.2" y2="78.1" stroke="#000" stroke-width="1.65"/>
<line x1="78.7" y1="39.5" x2="69.9" y2="39.5" stroke="#000" stroke-width="1.65"/>
<text class="tk" x="63.0" y="45.2" text-anchor="end">100</text>
<line x1="78.7" y1="0.9" x2="74.2" y2="0.9" stroke="#000" stroke-width="1.65"/>
<text class="ttl" transform="translate(25.5,223.8) rotate(-90)" text-anchor="middle">Transmittance (%)</text>
<text class="ttl" style="font-size:23.3px" x="272" y="515.2">Wavenumber (cm<tspan font-size="15" dy="-10.5">-1</tspan><tspan dy="10.5">)</tspan></text>
<rect x="266.3" y="280.7" width="206.5" height="119.3" fill="#fff" stroke="#666" stroke-width="1.1"/>
<line x1="286.8" y1="305" x2="335" y2="305" stroke="#000" stroke-width="3.5"/>
<line x1="286.8" y1="338" x2="335" y2="338" stroke="#f00" stroke-width="3.5"/>
<line x1="286.8" y1="370.2" x2="335" y2="370.2" stroke="#00f" stroke-width="3.5"/>
<text class="lg" x="341.5" y="312.8" fill="#000">ZrO<tspan font-size="14.8" dy="6.5">2</tspan></text>
<text class="lg" x="342.3" y="345.2" fill="#f00">TiO<tspan font-size="14.8" dy="6.5">2</tspan></text>
<text class="lg" x="342.3" y="377.5" fill="#00f">TiO<tspan font-size="14.8" dy="6.5">2</tspan><tspan dy="-6.5" dx="-0.4">@</tspan><tspan dx="-0.4">ZrO</tspan><tspan font-size="14.8" dy="6.5">2</tspan></text>
</svg>
</body></html>
